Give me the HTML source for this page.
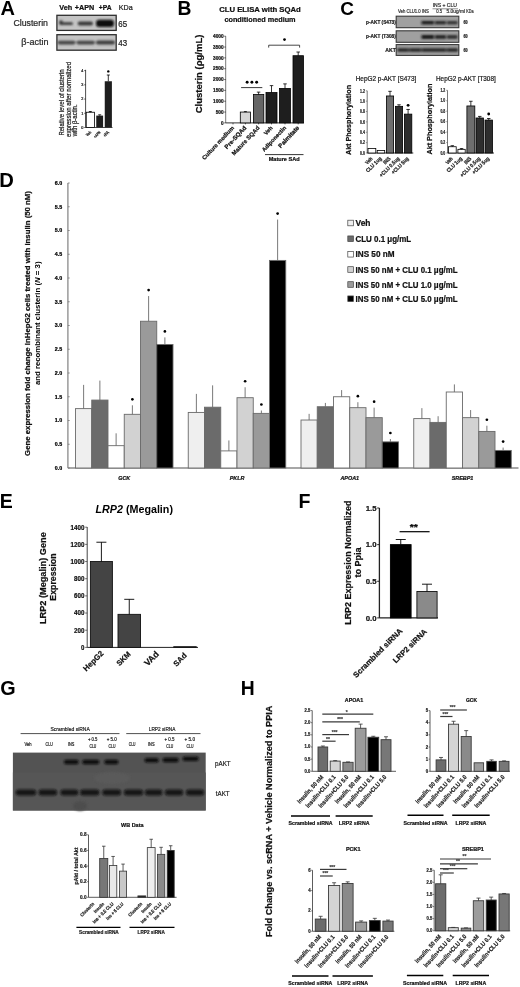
<!DOCTYPE html>
<html><head><meta charset="utf-8"><title>Figure</title>
<style>
html,body{margin:0;padding:0;background:#fff;}
body{width:520px;height:987px;overflow:hidden;}
svg{display:block;font-family:"Liberation Sans",Arial,sans-serif;}
</style></head><body>
<svg width="520" height="987" viewBox="0 0 520 987">
<defs>
<filter id="bl1" x="-20%" y="-50%" width="140%" height="200%"><feGaussianBlur stdDeviation="0.9"/></filter>
<filter id="bl2" x="-20%" y="-50%" width="140%" height="200%"><feGaussianBlur stdDeviation="1.25"/></filter>
</defs>
<rect width="520" height="987" fill="#fff"/>
<text x="0.6" y="15" font-size="20" font-weight="bold">A</text>
<text x="59.3" y="9.9" font-size="7" font-weight="bold" fill="#111" textLength="12.9" lengthAdjust="spacingAndGlyphs" stroke="#111" stroke-width="0.22">Veh</text>
<text x="74.7" y="9.9" font-size="7" font-weight="bold" fill="#111" textLength="19.5" lengthAdjust="spacingAndGlyphs" stroke="#111" stroke-width="0.22">+APN</text>
<text x="98.8" y="9.9" font-size="7" font-weight="bold" fill="#111" textLength="12.8" lengthAdjust="spacingAndGlyphs" stroke="#111" stroke-width="0.22">+PA</text>
<text x="118.8" y="9.9" font-size="7" fill="#222" textLength="13.9" lengthAdjust="spacingAndGlyphs" stroke="#222" stroke-width="0.22">KDa</text>
<text x="13.4" y="25.6" font-size="8.4" fill="#2a2a2a" textLength="34.6" lengthAdjust="spacingAndGlyphs" stroke="#2a2a2a" stroke-width="0.22">Clusterin</text>
<text x="21.3" y="45.2" font-size="8.4" fill="#2a2a2a" textLength="27.2" lengthAdjust="spacingAndGlyphs" stroke="#2a2a2a" stroke-width="0.22">&#946;-actin</text>
<text x="118.3" y="27" font-size="8.4" fill="#222" textLength="8.8" lengthAdjust="spacingAndGlyphs" stroke="#222" stroke-width="0.22">65</text>
<text x="118.3" y="46" font-size="8.4" fill="#222" textLength="8.8" lengthAdjust="spacingAndGlyphs" stroke="#222" stroke-width="0.22">43</text>
<rect x="56.9" y="15.3" width="59.3" height="15.1" fill="#c4c4c4" stroke="#2e2e2e" stroke-width="1.3"/>
<rect x="56.9" y="34.7" width="59.3" height="15.5" fill="#c4c4c4" stroke="#2e2e2e" stroke-width="1.3"/>
<g filter="url(#bl1)">
<rect x="59.5" y="22.3" width="13.5" height="2.8" rx="1.4" fill="#3a3a3a"/>
<ellipse cx="61" cy="22.6" rx="2" ry="2.4" fill="#3a3a3a"/>
<rect x="77.7" y="21.4" width="15.3" height="4.2" rx="2" fill="#383838"/>
<rect x="96" y="19.8" width="18" height="7.2" rx="3.2" fill="#0a0a0a"/>
<rect x="57.5" y="40.8" width="18" height="3.6" rx="1.8" fill="#444"/>
<rect x="76.5" y="40.8" width="18.5" height="3.6" rx="1.8" fill="#444"/>
<rect x="96" y="40.6" width="19" height="3.8" rx="1.9" fill="#3c3c3c"/>
</g>
<line x1="85.6" y1="69.8" x2="85.6" y2="127.5" stroke="#000" stroke-width="0.7"/>
<line x1="85.6" y1="127.5" x2="112.5" y2="127.5" stroke="#000" stroke-width="0.7"/>
<line x1="84.2" y1="127.5" x2="85.6" y2="127.5" stroke="#000" stroke-width="0.6"/>
<text x="83.3" y="128.8" font-size="3.8" text-anchor="end" fill="#222" stroke="#222" stroke-width="0.22">0</text>
<line x1="84.2" y1="113.28" x2="85.6" y2="113.28" stroke="#000" stroke-width="0.6"/>
<text x="83.3" y="114.58" font-size="3.8" text-anchor="end" fill="#222" stroke="#222" stroke-width="0.22">1</text>
<line x1="84.2" y1="99.05" x2="85.6" y2="99.05" stroke="#000" stroke-width="0.6"/>
<text x="83.3" y="100.35" font-size="3.8" text-anchor="end" fill="#222" stroke="#222" stroke-width="0.22">2</text>
<line x1="84.2" y1="84.82" x2="85.6" y2="84.82" stroke="#000" stroke-width="0.6"/>
<text x="83.3" y="86.12" font-size="3.8" text-anchor="end" fill="#222" stroke="#222" stroke-width="0.22">3</text>
<line x1="84.2" y1="70.6" x2="85.6" y2="70.6" stroke="#000" stroke-width="0.6"/>
<text x="83.3" y="71.9" font-size="3.8" text-anchor="end" fill="#222" stroke="#222" stroke-width="0.22">4</text>
<rect x="86.25" y="112.25" width="8.15" height="15.25" fill="#fff" stroke="#000" stroke-width="0.8"/>
<line x1="90.3" y1="112.25" x2="90.3" y2="111.5" stroke="#000" stroke-width="0.8"/>
<line x1="88.8" y1="111.5" x2="91.8" y2="111.5" stroke="#000" stroke-width="0.8"/>
<rect x="96.25" y="115.6" width="6.85" height="11.9" fill="#1e1e1e"/>
<line x1="99.7" y1="115.6" x2="99.7" y2="114.8" stroke="#000" stroke-width="0.8"/>
<line x1="98.2" y1="114.8" x2="101.2" y2="114.8" stroke="#000" stroke-width="0.8"/>
<rect x="104.75" y="81.25" width="7.15" height="46.25" fill="#1e1e1e"/>
<line x1="108.3" y1="81.25" x2="108.3" y2="75" stroke="#000" stroke-width="0.8"/>
<line x1="106.8" y1="75" x2="109.8" y2="75" stroke="#000" stroke-width="0.8"/>
<circle cx="108.3" cy="71.4" r="1.2" fill="#000"/>
<text x="64" y="135.6" font-size="6.88" fill="#222" transform="rotate(-90 64 135.6)" textLength="66.2" lengthAdjust="spacingAndGlyphs" stroke="#222" stroke-width="0.22">Relative level of clusterin</text>
<text x="70.8" y="136.9" font-size="7.02" fill="#222" transform="rotate(-90 70.8 136.9)" textLength="75" lengthAdjust="spacingAndGlyphs" stroke="#222" stroke-width="0.22">expression after normalized</text>
<text x="77.1" y="136.3" font-size="6.85" fill="#222" transform="rotate(-90 77.1 136.3)" textLength="31.9" lengthAdjust="spacingAndGlyphs" stroke="#222" stroke-width="0.22">with &#946;-actin.</text>
<text x="91.5" y="132.7" font-size="4.02" text-anchor="end" font-weight="bold" fill="#222" transform="rotate(-45 91.5 132.7)" textLength="5.5" lengthAdjust="spacingAndGlyphs" stroke="#222" stroke-width="0.22">Veh</text>
<text x="100.9" y="132.7" font-size="3.86" text-anchor="end" font-weight="bold" fill="#222" transform="rotate(-45 100.9 132.7)" textLength="8" lengthAdjust="spacingAndGlyphs" stroke="#222" stroke-width="0.22">+APN</text>
<text x="109.5" y="132.7" font-size="4.45" text-anchor="end" font-weight="bold" fill="#222" transform="rotate(-45 109.5 132.7)" textLength="6.5" lengthAdjust="spacingAndGlyphs" stroke="#222" stroke-width="0.22">+PA</text>
<text x="177.4" y="15" font-size="19.3" font-weight="bold">B</text>
<text x="219.2" y="11.9" font-size="7.72" font-weight="bold" fill="#111" textLength="81.6" lengthAdjust="spacingAndGlyphs" stroke="#111" stroke-width="0.22">CLU ELISA with SQAd</text>
<text x="224.4" y="21.5" font-size="7.28" font-weight="bold" fill="#111" textLength="71.2" lengthAdjust="spacingAndGlyphs" stroke="#111" stroke-width="0.22">conditioned medium</text>
<line x1="225.7" y1="36.2" x2="225.7" y2="122.9" stroke="#555" stroke-width="0.8"/>
<line x1="225.7" y1="122.9" x2="304" y2="122.9" stroke="#000" stroke-width="0.8"/>
<line x1="224.2" y1="122.9" x2="225.7" y2="122.9" stroke="#000" stroke-width="0.6"/>
<text x="223.6" y="124.6" font-size="4.9" text-anchor="end" font-weight="bold" fill="#111" textLength="2.6" lengthAdjust="spacingAndGlyphs" stroke="#111" stroke-width="0.22">0</text>
<line x1="224.2" y1="112.06" x2="225.7" y2="112.06" stroke="#000" stroke-width="0.6"/>
<text x="223.6" y="113.76" font-size="4.9" text-anchor="end" font-weight="bold" fill="#111" textLength="7.9" lengthAdjust="spacingAndGlyphs" stroke="#111" stroke-width="0.22">500</text>
<line x1="224.2" y1="101.23" x2="225.7" y2="101.23" stroke="#000" stroke-width="0.6"/>
<text x="223.6" y="102.93" font-size="4.9" text-anchor="end" font-weight="bold" fill="#111" textLength="10.6" lengthAdjust="spacingAndGlyphs" stroke="#111" stroke-width="0.22">1000</text>
<line x1="224.2" y1="90.39" x2="225.7" y2="90.39" stroke="#000" stroke-width="0.6"/>
<text x="223.6" y="92.09" font-size="4.9" text-anchor="end" font-weight="bold" fill="#111" textLength="10.6" lengthAdjust="spacingAndGlyphs" stroke="#111" stroke-width="0.22">1500</text>
<line x1="224.2" y1="79.55" x2="225.7" y2="79.55" stroke="#000" stroke-width="0.6"/>
<text x="223.6" y="81.25" font-size="4.9" text-anchor="end" font-weight="bold" fill="#111" textLength="10.6" lengthAdjust="spacingAndGlyphs" stroke="#111" stroke-width="0.22">2000</text>
<line x1="224.2" y1="68.71" x2="225.7" y2="68.71" stroke="#000" stroke-width="0.6"/>
<text x="223.6" y="70.41" font-size="4.9" text-anchor="end" font-weight="bold" fill="#111" textLength="10.6" lengthAdjust="spacingAndGlyphs" stroke="#111" stroke-width="0.22">2500</text>
<line x1="224.2" y1="57.88" x2="225.7" y2="57.88" stroke="#000" stroke-width="0.6"/>
<text x="223.6" y="59.58" font-size="4.9" text-anchor="end" font-weight="bold" fill="#111" textLength="10.6" lengthAdjust="spacingAndGlyphs" stroke="#111" stroke-width="0.22">3000</text>
<line x1="224.2" y1="47.04" x2="225.7" y2="47.04" stroke="#000" stroke-width="0.6"/>
<text x="223.6" y="48.74" font-size="4.9" text-anchor="end" font-weight="bold" fill="#111" textLength="10.6" lengthAdjust="spacingAndGlyphs" stroke="#111" stroke-width="0.22">3500</text>
<line x1="224.2" y1="36.2" x2="225.7" y2="36.2" stroke="#000" stroke-width="0.6"/>
<text x="223.6" y="37.9" font-size="4.9" text-anchor="end" font-weight="bold" fill="#111" textLength="10.6" lengthAdjust="spacingAndGlyphs" stroke="#111" stroke-width="0.22">4000</text>
<line x1="233" y1="122.9" x2="233" y2="124.4" stroke="#000" stroke-width="0.6"/>
<line x1="245.4" y1="122.9" x2="245.4" y2="124.4" stroke="#000" stroke-width="0.6"/>
<line x1="258.6" y1="122.9" x2="258.6" y2="124.4" stroke="#000" stroke-width="0.6"/>
<line x1="271.5" y1="122.9" x2="271.5" y2="124.4" stroke="#000" stroke-width="0.6"/>
<line x1="285" y1="122.9" x2="285" y2="124.4" stroke="#000" stroke-width="0.6"/>
<line x1="298.2" y1="122.9" x2="298.2" y2="124.4" stroke="#000" stroke-width="0.6"/>
<rect x="240.3" y="112.06" width="10.2" height="10.84" fill="#d6d6d6" stroke="#000" stroke-width="0.8"/>
<line x1="245.4" y1="112.06" x2="245.4" y2="111.63" stroke="#000" stroke-width="0.8"/>
<line x1="243.9" y1="111.63" x2="246.9" y2="111.63" stroke="#000" stroke-width="0.8"/>
<rect x="253.5" y="94.51" width="10.3" height="28.39" fill="#666" stroke="#000" stroke-width="0.8"/>
<line x1="258.6" y1="94.51" x2="258.6" y2="92.12" stroke="#000" stroke-width="0.8"/>
<line x1="256.85" y1="92.12" x2="260.35" y2="92.12" stroke="#000" stroke-width="0.8"/>
<rect x="266" y="92.56" width="11" height="30.34" fill="#1e1e1e" stroke="#000" stroke-width="0.8"/>
<line x1="271.5" y1="92.56" x2="271.5" y2="85.62" stroke="#000" stroke-width="0.8"/>
<line x1="269.75" y1="85.62" x2="273.25" y2="85.62" stroke="#000" stroke-width="0.8"/>
<rect x="279.5" y="88.44" width="10.9" height="34.46" fill="#1e1e1e" stroke="#000" stroke-width="0.8"/>
<line x1="285" y1="88.44" x2="285" y2="83.89" stroke="#000" stroke-width="0.8"/>
<line x1="283.25" y1="83.89" x2="286.75" y2="83.89" stroke="#000" stroke-width="0.8"/>
<rect x="293" y="55.71" width="10.5" height="67.19" fill="#1e1e1e" stroke="#000" stroke-width="0.8"/>
<line x1="298.2" y1="55.71" x2="298.2" y2="52.02" stroke="#000" stroke-width="0.8"/>
<line x1="296.45" y1="52.02" x2="299.95" y2="52.02" stroke="#000" stroke-width="0.8"/>
<line x1="241.1" y1="87.6" x2="262.3" y2="87.6" stroke="#222" stroke-width="0.9"/>
<circle cx="247.15" cy="82.3" r="1.45" fill="#000"/>
<circle cx="251.9" cy="82.3" r="1.45" fill="#000"/>
<circle cx="256.65" cy="82.3" r="1.45" fill="#000"/>
<line x1="268.7" y1="45.2" x2="299.6" y2="45.2" stroke="#333" stroke-width="0.9"/>
<line x1="268.7" y1="45.2" x2="268.7" y2="47.6" stroke="#333" stroke-width="0.9"/>
<line x1="299.6" y1="45.2" x2="299.6" y2="47.6" stroke="#333" stroke-width="0.9"/>
<circle cx="284.5" cy="39.6" r="1.35" fill="#000"/>
<text x="201.8" y="113.3" font-size="9.5" font-weight="bold" fill="#111" transform="rotate(-90 201.8 113.3)" textLength="78.7" lengthAdjust="spacingAndGlyphs" stroke="#111" stroke-width="0.22">Clusterin (&#961;g/mL)</text>
<text x="234.5" y="128.2" font-size="5.78" text-anchor="end" font-weight="bold" fill="#111" transform="rotate(-47 234.5 128.2)" textLength="44" lengthAdjust="spacingAndGlyphs" stroke="#111" stroke-width="0.22">Culture medium</text>
<text x="246.9" y="128.2" font-size="6.14" text-anchor="end" font-weight="bold" fill="#111" transform="rotate(-47 246.9 128.2)" textLength="29" lengthAdjust="spacingAndGlyphs" stroke="#111" stroke-width="0.22">Pre-SQAd</text>
<text x="260.1" y="128.2" font-size="5.95" text-anchor="end" font-weight="bold" fill="#111" transform="rotate(-47 260.1 128.2)" textLength="37.7" lengthAdjust="spacingAndGlyphs" stroke="#111" stroke-width="0.22">Mature SQAd</text>
<text x="273" y="128.2" font-size="5.62" text-anchor="end" font-weight="bold" fill="#111" transform="rotate(-47 273 128.2)" textLength="10" lengthAdjust="spacingAndGlyphs" stroke="#111" stroke-width="0.22">Veh</text>
<text x="286.5" y="128.2" font-size="5.64" text-anchor="end" font-weight="bold" fill="#111" transform="rotate(-47 286.5 128.2)" textLength="32.6" lengthAdjust="spacingAndGlyphs" stroke="#111" stroke-width="0.22">Adiponectin</text>
<text x="299.7" y="128.2" font-size="6.21" text-anchor="end" font-weight="bold" fill="#111" transform="rotate(-47 299.7 128.2)" textLength="27.6" lengthAdjust="spacingAndGlyphs" stroke="#111" stroke-width="0.22">Palmitate</text>
<line x1="265" y1="154.6" x2="303.5" y2="154.6" stroke="#000" stroke-width="0.8"/>
<text x="284.2" y="161.2" font-size="5.58" text-anchor="middle" font-weight="bold" fill="#111" textLength="31" lengthAdjust="spacingAndGlyphs" stroke="#111" stroke-width="0.22">Mature SAd</text>
<text x="340.2" y="15.3" font-size="19" font-weight="bold">C</text>
<text x="432.7" y="6.9" font-size="5" fill="#333" textLength="24.3" lengthAdjust="spacingAndGlyphs" stroke="#333" stroke-width="0.22">INS  +  CLU</text>
<line x1="432.5" y1="8.8" x2="458" y2="8.8" stroke="#444" stroke-width="0.6"/>
<text x="398" y="13.4" font-size="5.2" fill="#333" textLength="30.8" lengthAdjust="spacingAndGlyphs" stroke="#333" stroke-width="0.22">Veh CLU1.0 INS</text>
<text x="436.2" y="13.4" font-size="5.2" fill="#333" textLength="5.8" lengthAdjust="spacingAndGlyphs" stroke="#333" stroke-width="0.22">0.5</text>
<text x="446.5" y="13.4" font-size="5.2" fill="#333" textLength="18.5" lengthAdjust="spacingAndGlyphs" stroke="#333" stroke-width="0.22">5.0ug/ml</text>
<text x="466.2" y="13.4" font-size="5" fill="#333" textLength="7.3" lengthAdjust="spacingAndGlyphs" stroke="#333" stroke-width="0.22">KDa</text>
<rect x="396.2" y="16.2" width="62.6" height="11.5" fill="#a0a0a0" stroke="#383838" stroke-width="1.1"/>
<text x="395.8" y="23.85" font-size="5.44" text-anchor="end" font-weight="bold" fill="#1a1a1a" textLength="29.7" lengthAdjust="spacingAndGlyphs" stroke="#1a1a1a" stroke-width="0.22">p-AKT (S473)</text>
<text x="463.4" y="23.85" font-size="4.53" font-weight="bold" fill="#222" textLength="4.2" lengthAdjust="spacingAndGlyphs" stroke="#222" stroke-width="0.22">60</text>
<rect x="396.2" y="30.8" width="62.6" height="11.5" fill="#a0a0a0" stroke="#383838" stroke-width="1.1"/>
<text x="395.8" y="38.45" font-size="5.49" text-anchor="end" font-weight="bold" fill="#1a1a1a" textLength="29.7" lengthAdjust="spacingAndGlyphs" stroke="#1a1a1a" stroke-width="0.22">p-AKT (T308)</text>
<text x="463.4" y="38.45" font-size="4.53" font-weight="bold" fill="#222" textLength="4.2" lengthAdjust="spacingAndGlyphs" stroke="#222" stroke-width="0.22">60</text>
<rect x="396.2" y="44.6" width="62.6" height="10.8" fill="#a0a0a0" stroke="#383838" stroke-width="1.1"/>
<text x="395.8" y="51.9" font-size="5.88" text-anchor="end" font-weight="bold" fill="#1a1a1a" textLength="10.5" lengthAdjust="spacingAndGlyphs" stroke="#1a1a1a" stroke-width="0.22">AKT</text>
<text x="463.4" y="51.9" font-size="4.53" font-weight="bold" fill="#222" textLength="4.2" lengthAdjust="spacingAndGlyphs" stroke="#222" stroke-width="0.22">60</text>
<g filter="url(#bl1)">
<rect x="421.5" y="21" width="12.5" height="3.4" fill="#161616"/>
<rect x="421.5" y="35" width="12.5" height="3.9" fill="#161616"/>
<rect x="435" y="21" width="11" height="3.4" fill="#262626"/>
<rect x="435" y="35" width="11" height="3.9" fill="#262626"/>
<rect x="447" y="21" width="10.5" height="3.4" fill="#333"/>
<rect x="447" y="35" width="10.5" height="3.9" fill="#333"/>
<rect x="397.5" y="48.2" width="60.3" height="3.6" fill="#262626"/>
<rect x="408.4" y="48.2" width="1.2" height="3.6" fill="#555"/>
<rect x="420.9" y="48.2" width="1.2" height="3.6" fill="#555"/>
<rect x="445.9" y="48.2" width="1.2" height="3.6" fill="#555"/>
</g>
<text x="355.7" y="81.1" font-size="6.75" fill="#1a1a1a" textLength="60.6" lengthAdjust="spacingAndGlyphs" stroke="#1a1a1a" stroke-width="0.22">HepG2 p-AKT [S473]</text>
<line x1="367.2" y1="90.8" x2="367.2" y2="153" stroke="#555" stroke-width="0.8"/>
<line x1="367.2" y1="153" x2="413.3" y2="153" stroke="#000" stroke-width="0.8"/>
<line x1="365.9" y1="153" x2="367.2" y2="153" stroke="#555" stroke-width="0.6"/>
<text x="365" y="154.7" font-size="5" text-anchor="end" font-weight="bold" fill="#222" textLength="4.9" lengthAdjust="spacingAndGlyphs" stroke="#222" stroke-width="0.22">0.0</text>
<line x1="365.9" y1="142.63" x2="367.2" y2="142.63" stroke="#555" stroke-width="0.6"/>
<text x="365" y="144.33" font-size="5" text-anchor="end" font-weight="bold" fill="#222" textLength="4.9" lengthAdjust="spacingAndGlyphs" stroke="#222" stroke-width="0.22">0.2</text>
<line x1="365.9" y1="132.27" x2="367.2" y2="132.27" stroke="#555" stroke-width="0.6"/>
<text x="365" y="133.97" font-size="5" text-anchor="end" font-weight="bold" fill="#222" textLength="4.9" lengthAdjust="spacingAndGlyphs" stroke="#222" stroke-width="0.22">0.4</text>
<line x1="365.9" y1="121.9" x2="367.2" y2="121.9" stroke="#555" stroke-width="0.6"/>
<text x="365" y="123.6" font-size="5" text-anchor="end" font-weight="bold" fill="#222" textLength="4.9" lengthAdjust="spacingAndGlyphs" stroke="#222" stroke-width="0.22">0.6</text>
<line x1="365.9" y1="111.53" x2="367.2" y2="111.53" stroke="#555" stroke-width="0.6"/>
<text x="365" y="113.23" font-size="5" text-anchor="end" font-weight="bold" fill="#222" textLength="4.9" lengthAdjust="spacingAndGlyphs" stroke="#222" stroke-width="0.22">0.8</text>
<line x1="365.9" y1="101.17" x2="367.2" y2="101.17" stroke="#555" stroke-width="0.6"/>
<text x="365" y="102.87" font-size="5" text-anchor="end" font-weight="bold" fill="#222" textLength="4.9" lengthAdjust="spacingAndGlyphs" stroke="#222" stroke-width="0.22">1.0</text>
<line x1="365.9" y1="90.8" x2="367.2" y2="90.8" stroke="#555" stroke-width="0.6"/>
<text x="365" y="92.5" font-size="5" text-anchor="end" font-weight="bold" fill="#222" textLength="4.9" lengthAdjust="spacingAndGlyphs" stroke="#222" stroke-width="0.22">1.2</text>
<text x="350.5" y="155" font-size="7.17" font-weight="bold" fill="#111" transform="rotate(-90 350.5 155)" textLength="70.1" lengthAdjust="spacingAndGlyphs" stroke="#111" stroke-width="0.22">Akt Phosphorylation</text>
<rect x="368" y="148.59" width="7.8" height="4.41" fill="#fff" stroke="#000" stroke-width="0.8"/>
<text x="372.9" y="159" font-size="5.17" text-anchor="end" font-weight="bold" fill="#222" transform="rotate(-45 372.9 159)" textLength="8" lengthAdjust="spacingAndGlyphs" stroke="#222" stroke-width="0.22">Veh</text>
<rect x="377.2" y="150.41" width="7.5" height="2.59" fill="#fff" stroke="#000" stroke-width="0.8"/>
<text x="381.95" y="159" font-size="5.48" text-anchor="end" font-weight="bold" fill="#222" transform="rotate(-45 381.95 159)" textLength="19.6" lengthAdjust="spacingAndGlyphs" stroke="#222" stroke-width="0.22">CLU 1ug</text>
<rect x="386.4" y="95.98" width="7.2" height="57.02" fill="#6e6e6e" stroke="#000" stroke-width="0.8"/>
<line x1="390" y1="95.98" x2="390" y2="91.32" stroke="#000" stroke-width="0.8"/>
<line x1="388.25" y1="91.32" x2="391.75" y2="91.32" stroke="#000" stroke-width="0.8"/>
<text x="391" y="159" font-size="5.52" text-anchor="end" font-weight="bold" fill="#222" transform="rotate(-45 391 159)" textLength="8" lengthAdjust="spacingAndGlyphs" stroke="#222" stroke-width="0.22">INS</text>
<rect x="395.4" y="106.35" width="7.2" height="46.65" fill="#2e2e2e" stroke="#000" stroke-width="0.8"/>
<line x1="399" y1="106.35" x2="399" y2="104.79" stroke="#000" stroke-width="0.8"/>
<line x1="397.25" y1="104.79" x2="400.75" y2="104.79" stroke="#000" stroke-width="0.8"/>
<text x="400" y="159" font-size="5.41" text-anchor="end" font-weight="bold" fill="#222" transform="rotate(-45 400 159)" textLength="26" lengthAdjust="spacingAndGlyphs" stroke="#222" stroke-width="0.22">+CLU 0.5ug</text>
<rect x="404.4" y="114.12" width="7.4" height="38.88" fill="#2e2e2e" stroke="#000" stroke-width="0.8"/>
<line x1="408.1" y1="114.12" x2="408.1" y2="109.46" stroke="#000" stroke-width="0.8"/>
<line x1="406.35" y1="109.46" x2="409.85" y2="109.46" stroke="#000" stroke-width="0.8"/>
<text x="409.1" y="159" font-size="5.39" text-anchor="end" font-weight="bold" fill="#222" transform="rotate(-45 409.1 159)" textLength="22" lengthAdjust="spacingAndGlyphs" stroke="#222" stroke-width="0.22">+CLU 5ug</text>
<circle cx="408.1" cy="105.3" r="1.4" fill="#000"/>
<text x="436" y="81.1" font-size="6.69" fill="#1a1a1a" textLength="59.7" lengthAdjust="spacingAndGlyphs" stroke="#1a1a1a" stroke-width="0.22">HepG2 p-AKT [T308]</text>
<line x1="447.5" y1="90.3" x2="447.5" y2="153" stroke="#555" stroke-width="0.8"/>
<line x1="447.5" y1="153" x2="494" y2="153" stroke="#000" stroke-width="0.8"/>
<line x1="446.2" y1="153" x2="447.5" y2="153" stroke="#555" stroke-width="0.6"/>
<text x="445.3" y="154.7" font-size="5" text-anchor="end" font-weight="bold" fill="#222" textLength="4.9" lengthAdjust="spacingAndGlyphs" stroke="#222" stroke-width="0.22">0.0</text>
<line x1="446.2" y1="142.55" x2="447.5" y2="142.55" stroke="#555" stroke-width="0.6"/>
<text x="445.3" y="144.25" font-size="5" text-anchor="end" font-weight="bold" fill="#222" textLength="4.9" lengthAdjust="spacingAndGlyphs" stroke="#222" stroke-width="0.22">0.2</text>
<line x1="446.2" y1="132.1" x2="447.5" y2="132.1" stroke="#555" stroke-width="0.6"/>
<text x="445.3" y="133.8" font-size="5" text-anchor="end" font-weight="bold" fill="#222" textLength="4.9" lengthAdjust="spacingAndGlyphs" stroke="#222" stroke-width="0.22">0.4</text>
<line x1="446.2" y1="121.65" x2="447.5" y2="121.65" stroke="#555" stroke-width="0.6"/>
<text x="445.3" y="123.35" font-size="5" text-anchor="end" font-weight="bold" fill="#222" textLength="4.9" lengthAdjust="spacingAndGlyphs" stroke="#222" stroke-width="0.22">0.6</text>
<line x1="446.2" y1="111.2" x2="447.5" y2="111.2" stroke="#555" stroke-width="0.6"/>
<text x="445.3" y="112.9" font-size="5" text-anchor="end" font-weight="bold" fill="#222" textLength="4.9" lengthAdjust="spacingAndGlyphs" stroke="#222" stroke-width="0.22">0.8</text>
<line x1="446.2" y1="100.75" x2="447.5" y2="100.75" stroke="#555" stroke-width="0.6"/>
<text x="445.3" y="102.45" font-size="5" text-anchor="end" font-weight="bold" fill="#222" textLength="4.9" lengthAdjust="spacingAndGlyphs" stroke="#222" stroke-width="0.22">1.0</text>
<line x1="446.2" y1="90.3" x2="447.5" y2="90.3" stroke="#555" stroke-width="0.6"/>
<text x="445.3" y="92" font-size="5" text-anchor="end" font-weight="bold" fill="#222" textLength="4.9" lengthAdjust="spacingAndGlyphs" stroke="#222" stroke-width="0.22">1.2</text>
<text x="432.2" y="154.6" font-size="7.26" font-weight="bold" fill="#111" transform="rotate(-90 432.2 154.6)" textLength="71" lengthAdjust="spacingAndGlyphs" stroke="#111" stroke-width="0.22">Akt Phosphorylation</text>
<rect x="448.4" y="146.73" width="7.8" height="6.27" fill="#fff" stroke="#000" stroke-width="0.8"/>
<line x1="452.3" y1="146.73" x2="452.3" y2="145.69" stroke="#000" stroke-width="0.8"/>
<line x1="450.55" y1="145.69" x2="454.05" y2="145.69" stroke="#000" stroke-width="0.8"/>
<text x="453.3" y="159" font-size="5.17" text-anchor="end" font-weight="bold" fill="#222" transform="rotate(-45 453.3 159)" textLength="8" lengthAdjust="spacingAndGlyphs" stroke="#222" stroke-width="0.22">Veh</text>
<rect x="457.9" y="149.34" width="7.3" height="3.66" fill="#fff" stroke="#000" stroke-width="0.8"/>
<line x1="461.55" y1="149.34" x2="461.55" y2="148.56" stroke="#000" stroke-width="0.8"/>
<line x1="459.8" y1="148.56" x2="463.3" y2="148.56" stroke="#000" stroke-width="0.8"/>
<text x="462.55" y="159" font-size="5.48" text-anchor="end" font-weight="bold" fill="#222" transform="rotate(-45 462.55 159)" textLength="19.6" lengthAdjust="spacingAndGlyphs" stroke="#222" stroke-width="0.22">CLU 1ug</text>
<rect x="466.9" y="105.97" width="7.9" height="47.03" fill="#6e6e6e" stroke="#000" stroke-width="0.8"/>
<line x1="470.85" y1="105.97" x2="470.85" y2="101.27" stroke="#000" stroke-width="0.8"/>
<line x1="469.1" y1="101.27" x2="472.6" y2="101.27" stroke="#000" stroke-width="0.8"/>
<text x="471.85" y="159" font-size="5.52" text-anchor="end" font-weight="bold" fill="#222" transform="rotate(-45 471.85 159)" textLength="8" lengthAdjust="spacingAndGlyphs" stroke="#222" stroke-width="0.22">INS</text>
<rect x="476" y="117.99" width="7.5" height="35.01" fill="#2e2e2e" stroke="#000" stroke-width="0.8"/>
<line x1="479.75" y1="117.99" x2="479.75" y2="116.42" stroke="#000" stroke-width="0.8"/>
<line x1="478" y1="116.42" x2="481.5" y2="116.42" stroke="#000" stroke-width="0.8"/>
<text x="480.75" y="159" font-size="5.41" text-anchor="end" font-weight="bold" fill="#222" transform="rotate(-45 480.75 159)" textLength="26" lengthAdjust="spacingAndGlyphs" stroke="#222" stroke-width="0.22">+CLU 0.5ug</text>
<rect x="485" y="120.08" width="7.5" height="32.92" fill="#2e2e2e" stroke="#000" stroke-width="0.8"/>
<line x1="488.75" y1="120.08" x2="488.75" y2="118.51" stroke="#000" stroke-width="0.8"/>
<line x1="487" y1="118.51" x2="490.5" y2="118.51" stroke="#000" stroke-width="0.8"/>
<text x="489.75" y="159" font-size="5.39" text-anchor="end" font-weight="bold" fill="#222" transform="rotate(-45 489.75 159)" textLength="22" lengthAdjust="spacingAndGlyphs" stroke="#222" stroke-width="0.22">+CLU 5ug</text>
<circle cx="488.7" cy="114" r="1.4" fill="#000"/>
<text x="-0.8" y="186.75" font-size="20.2" font-weight="bold">D</text>
<line x1="67.9" y1="183" x2="67.9" y2="468" stroke="#8a8a8a" stroke-width="1.3"/>
<line x1="67.9" y1="468" x2="518.5" y2="468" stroke="#8a8a8a" stroke-width="1.3"/>
<line x1="67.9" y1="468" x2="69.7" y2="468" stroke="#777" stroke-width="0.8"/>
<text x="62.2" y="469.8" font-size="5.2" text-anchor="end" font-weight="bold" textLength="7.4" lengthAdjust="spacingAndGlyphs" stroke="#000" stroke-width="0.22">0.0</text>
<line x1="67.9" y1="444.25" x2="69.7" y2="444.25" stroke="#777" stroke-width="0.8"/>
<text x="62.2" y="446.05" font-size="5.2" text-anchor="end" font-weight="bold" textLength="7.4" lengthAdjust="spacingAndGlyphs" stroke="#000" stroke-width="0.22">0.5</text>
<line x1="67.9" y1="420.5" x2="69.7" y2="420.5" stroke="#777" stroke-width="0.8"/>
<text x="62.2" y="422.3" font-size="5.2" text-anchor="end" font-weight="bold" textLength="7.4" lengthAdjust="spacingAndGlyphs" stroke="#000" stroke-width="0.22">1.0</text>
<line x1="67.9" y1="396.75" x2="69.7" y2="396.75" stroke="#777" stroke-width="0.8"/>
<text x="62.2" y="398.55" font-size="5.2" text-anchor="end" font-weight="bold" textLength="7.4" lengthAdjust="spacingAndGlyphs" stroke="#000" stroke-width="0.22">1.5</text>
<line x1="67.9" y1="373" x2="69.7" y2="373" stroke="#777" stroke-width="0.8"/>
<text x="62.2" y="374.8" font-size="5.2" text-anchor="end" font-weight="bold" textLength="7.4" lengthAdjust="spacingAndGlyphs" stroke="#000" stroke-width="0.22">2.0</text>
<line x1="67.9" y1="349.25" x2="69.7" y2="349.25" stroke="#777" stroke-width="0.8"/>
<text x="62.2" y="351.05" font-size="5.2" text-anchor="end" font-weight="bold" textLength="7.4" lengthAdjust="spacingAndGlyphs" stroke="#000" stroke-width="0.22">2.5</text>
<line x1="67.9" y1="325.5" x2="69.7" y2="325.5" stroke="#777" stroke-width="0.8"/>
<text x="62.2" y="327.3" font-size="5.2" text-anchor="end" font-weight="bold" textLength="7.4" lengthAdjust="spacingAndGlyphs" stroke="#000" stroke-width="0.22">3.0</text>
<line x1="67.9" y1="301.75" x2="69.7" y2="301.75" stroke="#777" stroke-width="0.8"/>
<text x="62.2" y="303.55" font-size="5.2" text-anchor="end" font-weight="bold" textLength="7.4" lengthAdjust="spacingAndGlyphs" stroke="#000" stroke-width="0.22">3.5</text>
<line x1="67.9" y1="278" x2="69.7" y2="278" stroke="#777" stroke-width="0.8"/>
<text x="62.2" y="279.8" font-size="5.2" text-anchor="end" font-weight="bold" textLength="7.4" lengthAdjust="spacingAndGlyphs" stroke="#000" stroke-width="0.22">4.0</text>
<line x1="67.9" y1="254.25" x2="69.7" y2="254.25" stroke="#777" stroke-width="0.8"/>
<text x="62.2" y="256.05" font-size="5.2" text-anchor="end" font-weight="bold" textLength="7.4" lengthAdjust="spacingAndGlyphs" stroke="#000" stroke-width="0.22">4.5</text>
<line x1="67.9" y1="230.5" x2="69.7" y2="230.5" stroke="#777" stroke-width="0.8"/>
<text x="62.2" y="232.3" font-size="5.2" text-anchor="end" font-weight="bold" textLength="7.4" lengthAdjust="spacingAndGlyphs" stroke="#000" stroke-width="0.22">5.0</text>
<line x1="67.9" y1="206.75" x2="69.7" y2="206.75" stroke="#777" stroke-width="0.8"/>
<text x="62.2" y="208.55" font-size="5.2" text-anchor="end" font-weight="bold" textLength="7.4" lengthAdjust="spacingAndGlyphs" stroke="#000" stroke-width="0.22">5.5</text>
<line x1="67.9" y1="183" x2="69.7" y2="183" stroke="#777" stroke-width="0.8"/>
<text x="62.2" y="184.8" font-size="5.2" text-anchor="end" font-weight="bold" textLength="7.4" lengthAdjust="spacingAndGlyphs" stroke="#000" stroke-width="0.22">6.0</text>
<text x="29.9" y="455.9" font-size="7.6" font-weight="bold" fill="#111" transform="rotate(-90 29.9 455.9)" textLength="264.8" lengthAdjust="spacingAndGlyphs" stroke="#111" stroke-width="0.22">Gene expression fold change inHepG2 cells treated with insulin (50 nM)</text>
<text x="39.6" y="385.1" font-size="7.6" font-weight="bold" transform="rotate(-90 39.6 385.1)" textLength="123.6" lengthAdjust="spacingAndGlyphs"><tspan>and recombinant clusterin (</tspan><tspan font-style="italic">N</tspan><tspan> = 3)</tspan></text>
<rect x="75.5" y="408.62" width="16.25" height="59.38" fill="#efefef" stroke="#6a6a6a" stroke-width="0.9"/>
<line x1="83.62" y1="408.62" x2="83.62" y2="384.88" stroke="#6a6a6a" stroke-width="0.9"/>
<rect x="91.75" y="400.07" width="16.25" height="67.93" fill="#6b6b6b" stroke="#6a6a6a" stroke-width="0.9"/>
<line x1="99.88" y1="400.07" x2="99.88" y2="380.6" stroke="#6a6a6a" stroke-width="0.9"/>
<rect x="108" y="445.68" width="16.25" height="22.32" fill="#ffffff" stroke="#6a6a6a" stroke-width="0.9"/>
<line x1="116.12" y1="445.68" x2="116.12" y2="433.32" stroke="#6a6a6a" stroke-width="0.9"/>
<rect x="124.25" y="414.32" width="16.25" height="53.68" fill="#d2d2d2" stroke="#6a6a6a" stroke-width="0.9"/>
<line x1="132.38" y1="414.32" x2="132.38" y2="405.3" stroke="#6a6a6a" stroke-width="0.9"/>
<circle cx="132.38" cy="399.3" r="1.35" fill="#000"/>
<rect x="140.5" y="321.23" width="16.25" height="146.77" fill="#9a9a9a" stroke="#6a6a6a" stroke-width="0.9"/>
<line x1="148.62" y1="321.23" x2="148.62" y2="296.05" stroke="#6a6a6a" stroke-width="0.9"/>
<circle cx="148.62" cy="290.05" r="1.35" fill="#000"/>
<rect x="156.75" y="344.5" width="16.25" height="123.5" fill="#000000" stroke="#6a6a6a" stroke-width="0.9"/>
<line x1="164.88" y1="344.5" x2="164.88" y2="337.38" stroke="#6a6a6a" stroke-width="0.9"/>
<circle cx="164.88" cy="331.38" r="1.35" fill="#000"/>
<text x="124.25" y="479.6" font-size="5.4" text-anchor="middle" font-weight="bold" fill="#111" font-style="italic" stroke="#111" stroke-width="0.22">GCK</text>
<rect x="188.25" y="412.43" width="16.25" height="55.57" fill="#efefef" stroke="#6a6a6a" stroke-width="0.9"/>
<line x1="196.38" y1="412.43" x2="196.38" y2="393.9" stroke="#6a6a6a" stroke-width="0.9"/>
<rect x="204.5" y="407.2" width="16.25" height="60.8" fill="#6b6b6b" stroke="#6a6a6a" stroke-width="0.9"/>
<line x1="212.62" y1="407.2" x2="212.62" y2="385.35" stroke="#6a6a6a" stroke-width="0.9"/>
<rect x="220.75" y="450.9" width="16.25" height="17.1" fill="#ffffff" stroke="#6a6a6a" stroke-width="0.9"/>
<line x1="228.88" y1="450.9" x2="228.88" y2="440.45" stroke="#6a6a6a" stroke-width="0.9"/>
<rect x="237" y="397.7" width="16.25" height="70.3" fill="#d2d2d2" stroke="#6a6a6a" stroke-width="0.9"/>
<line x1="245.12" y1="397.7" x2="245.12" y2="387.25" stroke="#6a6a6a" stroke-width="0.9"/>
<circle cx="245.12" cy="381.25" r="1.35" fill="#000"/>
<rect x="253.25" y="413.38" width="16.25" height="54.62" fill="#9a9a9a" stroke="#6a6a6a" stroke-width="0.9"/>
<line x1="261.38" y1="413.38" x2="261.38" y2="410.52" stroke="#6a6a6a" stroke-width="0.9"/>
<circle cx="261.38" cy="404.52" r="1.35" fill="#000"/>
<rect x="269.5" y="260.42" width="16.25" height="207.58" fill="#000000" stroke="#6a6a6a" stroke-width="0.9"/>
<line x1="277.62" y1="260.42" x2="277.62" y2="219.57" stroke="#6a6a6a" stroke-width="0.9"/>
<circle cx="277.62" cy="213.57" r="1.35" fill="#000"/>
<text x="237" y="479.6" font-size="5.4" text-anchor="middle" font-weight="bold" fill="#111" font-style="italic" stroke="#111" stroke-width="0.22">PKLR</text>
<rect x="301" y="420.02" width="16.25" height="47.98" fill="#efefef" stroke="#6a6a6a" stroke-width="0.9"/>
<line x1="309.12" y1="420.02" x2="309.12" y2="413.85" stroke="#6a6a6a" stroke-width="0.9"/>
<rect x="317.25" y="406.73" width="16.25" height="61.27" fill="#6b6b6b" stroke="#6a6a6a" stroke-width="0.9"/>
<line x1="325.38" y1="406.73" x2="325.38" y2="402.93" stroke="#6a6a6a" stroke-width="0.9"/>
<rect x="333.5" y="396.75" width="16.25" height="71.25" fill="#ffffff" stroke="#6a6a6a" stroke-width="0.9"/>
<line x1="341.62" y1="396.75" x2="341.62" y2="390.1" stroke="#6a6a6a" stroke-width="0.9"/>
<rect x="349.75" y="407.68" width="16.25" height="60.32" fill="#d2d2d2" stroke="#6a6a6a" stroke-width="0.9"/>
<line x1="357.88" y1="407.68" x2="357.88" y2="402.21" stroke="#6a6a6a" stroke-width="0.9"/>
<circle cx="357.88" cy="396.21" r="1.35" fill="#000"/>
<rect x="366" y="417.65" width="16.25" height="50.35" fill="#9a9a9a" stroke="#6a6a6a" stroke-width="0.9"/>
<line x1="374.12" y1="417.65" x2="374.12" y2="407.67" stroke="#6a6a6a" stroke-width="0.9"/>
<circle cx="374.12" cy="401.67" r="1.35" fill="#000"/>
<rect x="382.25" y="441.88" width="16.25" height="26.12" fill="#000000" stroke="#6a6a6a" stroke-width="0.9"/>
<line x1="390.38" y1="441.88" x2="390.38" y2="439.02" stroke="#6a6a6a" stroke-width="0.9"/>
<circle cx="390.38" cy="433.02" r="1.35" fill="#000"/>
<text x="349.75" y="479.6" font-size="5.4" text-anchor="middle" font-weight="bold" fill="#111" font-style="italic" stroke="#111" stroke-width="0.22">APOA1</text>
<rect x="413.75" y="418.6" width="16.25" height="49.4" fill="#efefef" stroke="#6a6a6a" stroke-width="0.9"/>
<line x1="421.88" y1="418.6" x2="421.88" y2="408.15" stroke="#6a6a6a" stroke-width="0.9"/>
<rect x="430" y="422.4" width="16.25" height="45.6" fill="#6b6b6b" stroke="#6a6a6a" stroke-width="0.9"/>
<line x1="438.12" y1="422.4" x2="438.12" y2="416.22" stroke="#6a6a6a" stroke-width="0.9"/>
<rect x="446.25" y="392" width="16.25" height="76" fill="#ffffff" stroke="#6a6a6a" stroke-width="0.9"/>
<line x1="454.38" y1="392" x2="454.38" y2="384.4" stroke="#6a6a6a" stroke-width="0.9"/>
<rect x="462.5" y="417.65" width="16.25" height="50.35" fill="#d2d2d2" stroke="#6a6a6a" stroke-width="0.9"/>
<line x1="470.62" y1="417.65" x2="470.62" y2="410.05" stroke="#6a6a6a" stroke-width="0.9"/>
<rect x="478.75" y="431.43" width="16.25" height="36.57" fill="#9a9a9a" stroke="#6a6a6a" stroke-width="0.9"/>
<line x1="486.88" y1="431.43" x2="486.88" y2="425.73" stroke="#6a6a6a" stroke-width="0.9"/>
<circle cx="486.88" cy="419.73" r="1.35" fill="#000"/>
<rect x="495" y="450.43" width="16.25" height="17.57" fill="#000000" stroke="#6a6a6a" stroke-width="0.9"/>
<line x1="503.12" y1="450.43" x2="503.12" y2="447.57" stroke="#6a6a6a" stroke-width="0.9"/>
<circle cx="503.12" cy="441.57" r="1.35" fill="#000"/>
<text x="462.5" y="479.6" font-size="5.4" text-anchor="middle" font-weight="bold" fill="#111" font-style="italic" stroke="#111" stroke-width="0.22">SREBP1</text>
<rect x="347.8" y="220.2" width="5.6" height="5.6" fill="#efefef" stroke="#444" stroke-width="0.7"/>
<text x="355.5" y="226" font-size="8.2" font-weight="bold" fill="#111" textLength="15" lengthAdjust="spacingAndGlyphs" stroke="#111" stroke-width="0.22">Veh</text>
<rect x="347.8" y="235.95" width="5.6" height="5.6" fill="#6b6b6b" stroke="#444" stroke-width="0.7"/>
<text x="355.5" y="241.75" font-size="8.2" font-weight="bold" fill="#111" textLength="55.7" lengthAdjust="spacingAndGlyphs" stroke="#111" stroke-width="0.22">CLU 0.1 &#956;g/mL</text>
<rect x="347.8" y="251.45" width="5.6" height="5.6" fill="#ffffff" stroke="#444" stroke-width="0.7"/>
<text x="355.5" y="257.25" font-size="8.2" font-weight="bold" fill="#111" textLength="39" lengthAdjust="spacingAndGlyphs" stroke="#111" stroke-width="0.22">INS 50 nM</text>
<rect x="347.8" y="266.7" width="5.6" height="5.6" fill="#d2d2d2" stroke="#444" stroke-width="0.7"/>
<text x="355.5" y="272.5" font-size="8.2" font-weight="bold" fill="#111" textLength="102" lengthAdjust="spacingAndGlyphs" stroke="#111" stroke-width="0.22">INS 50 nM + CLU 0.1 &#956;g/mL</text>
<rect x="347.8" y="281.7" width="5.6" height="5.6" fill="#9a9a9a" stroke="#444" stroke-width="0.7"/>
<text x="355.5" y="287.5" font-size="8.2" font-weight="bold" fill="#111" textLength="102" lengthAdjust="spacingAndGlyphs" stroke="#111" stroke-width="0.22">INS 50 nM + CLU 1.0 &#956;g/mL</text>
<rect x="347.8" y="295.95" width="5.6" height="5.6" fill="#000000" stroke="#444" stroke-width="0.7"/>
<text x="355.5" y="301.75" font-size="8.2" font-weight="bold" fill="#111" textLength="102" lengthAdjust="spacingAndGlyphs" stroke="#111" stroke-width="0.22">INS 50 nM + CLU 5.0 &#956;g/mL</text>
<text x="-0.2" y="507.9" font-size="19.5" font-weight="bold">E</text>
<text x="95.5" y="513" font-size="11.2" font-weight="bold" textLength="77.5" lengthAdjust="spacingAndGlyphs"><tspan font-style="italic">LRP2</tspan><tspan> (Megalin)</tspan></text>
<line x1="87.2" y1="527" x2="87.2" y2="647.4" stroke="#444" stroke-width="1"/>
<line x1="87.2" y1="647.4" x2="198" y2="647.4" stroke="#222" stroke-width="1"/>
<line x1="85.2" y1="647.4" x2="87.2" y2="647.4" stroke="#444" stroke-width="0.8"/>
<text x="84.4" y="649.7" font-size="6.73" text-anchor="end" font-weight="bold" fill="#111" textLength="3.4" lengthAdjust="spacingAndGlyphs" stroke="#111" stroke-width="0.22">0</text>
<line x1="85.2" y1="630.23" x2="87.2" y2="630.23" stroke="#444" stroke-width="0.8"/>
<text x="84.4" y="632.53" font-size="6.86" text-anchor="end" font-weight="bold" fill="#111" textLength="10.4" lengthAdjust="spacingAndGlyphs" stroke="#111" stroke-width="0.22">200</text>
<line x1="85.2" y1="613.06" x2="87.2" y2="613.06" stroke="#444" stroke-width="0.8"/>
<text x="84.4" y="615.36" font-size="6.86" text-anchor="end" font-weight="bold" fill="#111" textLength="10.4" lengthAdjust="spacingAndGlyphs" stroke="#111" stroke-width="0.22">400</text>
<line x1="85.2" y1="595.89" x2="87.2" y2="595.89" stroke="#444" stroke-width="0.8"/>
<text x="84.4" y="598.19" font-size="6.86" text-anchor="end" font-weight="bold" fill="#111" textLength="10.4" lengthAdjust="spacingAndGlyphs" stroke="#111" stroke-width="0.22">600</text>
<line x1="85.2" y1="578.71" x2="87.2" y2="578.71" stroke="#444" stroke-width="0.8"/>
<text x="84.4" y="581.01" font-size="6.86" text-anchor="end" font-weight="bold" fill="#111" textLength="10.4" lengthAdjust="spacingAndGlyphs" stroke="#111" stroke-width="0.22">800</text>
<line x1="85.2" y1="561.54" x2="87.2" y2="561.54" stroke="#444" stroke-width="0.8"/>
<text x="84.4" y="563.84" font-size="6.87" text-anchor="end" font-weight="bold" fill="#111" textLength="13.9" lengthAdjust="spacingAndGlyphs" stroke="#111" stroke-width="0.22">1000</text>
<line x1="85.2" y1="544.37" x2="87.2" y2="544.37" stroke="#444" stroke-width="0.8"/>
<text x="84.4" y="546.67" font-size="6.87" text-anchor="end" font-weight="bold" fill="#111" textLength="13.9" lengthAdjust="spacingAndGlyphs" stroke="#111" stroke-width="0.22">1200</text>
<line x1="85.2" y1="527.2" x2="87.2" y2="527.2" stroke="#444" stroke-width="0.8"/>
<text x="84.4" y="529.5" font-size="6.87" text-anchor="end" font-weight="bold" fill="#111" textLength="13.9" lengthAdjust="spacingAndGlyphs" stroke="#111" stroke-width="0.22">1400</text>
<rect x="90.4" y="561.54" width="22" height="85.86" fill="#444" stroke="#111" stroke-width="0.9"/>
<line x1="101.4" y1="561.54" x2="101.4" y2="542.23" stroke="#000" stroke-width="0.9"/>
<line x1="96.4" y1="542.23" x2="106.4" y2="542.23" stroke="#000" stroke-width="0.9"/>
<rect x="118" y="614.35" width="22.5" height="33.05" fill="#444" stroke="#111" stroke-width="0.9"/>
<line x1="129.25" y1="614.35" x2="129.25" y2="599.32" stroke="#000" stroke-width="0.9"/>
<line x1="124.25" y1="599.32" x2="134.25" y2="599.32" stroke="#000" stroke-width="0.9"/>
<rect x="173.75" y="646.71" width="22.5" height="0.69" fill="#444" stroke="#111" stroke-width="0.9"/>
<text x="104.2" y="653.9" font-size="7.82" text-anchor="end" font-weight="bold" fill="#111" transform="rotate(-45 104.2 653.9)" textLength="25.2" lengthAdjust="spacingAndGlyphs" stroke="#111" stroke-width="0.22">HepG2</text>
<text x="131.2" y="654.6" font-size="7.47" text-anchor="end" font-weight="bold" fill="#111" transform="rotate(-45 131.2 654.6)" textLength="16.6" lengthAdjust="spacingAndGlyphs" stroke="#111" stroke-width="0.22">SKM</text>
<text x="159.6" y="654.6" font-size="8.78" text-anchor="end" font-weight="bold" fill="#111" transform="rotate(-45 159.6 654.6)" textLength="16.9" lengthAdjust="spacingAndGlyphs" stroke="#111" stroke-width="0.22">VAd</text>
<text x="187.3" y="656" font-size="7.7" text-anchor="end" font-weight="bold" fill="#111" transform="rotate(-45 187.3 656)" textLength="15.4" lengthAdjust="spacingAndGlyphs" stroke="#111" stroke-width="0.22">SAd</text>
<text x="46.1" y="624.1" font-size="9.19" font-weight="bold" fill="#111" transform="rotate(-90 46.1 624.1)" textLength="91.9" lengthAdjust="spacingAndGlyphs" stroke="#111" stroke-width="0.22">LRP2 (Megalin) Gene</text>
<text x="56.2" y="600.7" font-size="8.77" font-weight="bold" fill="#111" transform="rotate(-90 56.2 600.7)" textLength="47.3" lengthAdjust="spacingAndGlyphs" stroke="#111" stroke-width="0.22">Expression</text>
<text x="298.4" y="507.9" font-size="19.6" font-weight="bold">F</text>
<line x1="379.4" y1="508" x2="379.4" y2="617.9" stroke="#222" stroke-width="1.3"/>
<line x1="379.4" y1="617.9" x2="438" y2="617.9" stroke="#222" stroke-width="1.3"/>
<line x1="377.2" y1="617.9" x2="379.4" y2="617.9" stroke="#222" stroke-width="1"/>
<text x="376.5" y="620.5" font-size="7.77" text-anchor="end" font-weight="bold" fill="#111" textLength="10.8" lengthAdjust="spacingAndGlyphs" stroke="#111" stroke-width="0.22">0.0</text>
<line x1="377.2" y1="581.27" x2="379.4" y2="581.27" stroke="#222" stroke-width="1"/>
<text x="376.5" y="583.87" font-size="7.77" text-anchor="end" font-weight="bold" fill="#111" textLength="10.8" lengthAdjust="spacingAndGlyphs" stroke="#111" stroke-width="0.22">0.5</text>
<line x1="377.2" y1="544.63" x2="379.4" y2="544.63" stroke="#222" stroke-width="1"/>
<text x="376.5" y="547.23" font-size="7.77" text-anchor="end" font-weight="bold" fill="#111" textLength="10.8" lengthAdjust="spacingAndGlyphs" stroke="#111" stroke-width="0.22">1.0</text>
<line x1="377.2" y1="508" x2="379.4" y2="508" stroke="#222" stroke-width="1"/>
<text x="376.5" y="510.6" font-size="7.77" text-anchor="end" font-weight="bold" fill="#111" textLength="10.8" lengthAdjust="spacingAndGlyphs" stroke="#111" stroke-width="0.22">1.5</text>
<rect x="390.4" y="544.63" width="20.7" height="73.27" fill="#000" stroke="#000" stroke-width="0.9"/>
<line x1="400.75" y1="544.63" x2="400.75" y2="539.5" stroke="#000" stroke-width="0.9"/>
<line x1="395.75" y1="539.5" x2="405.75" y2="539.5" stroke="#000" stroke-width="0.9"/>
<rect x="416.9" y="591.52" width="20.2" height="26.38" fill="#8a8a8a" stroke="#111" stroke-width="0.9"/>
<line x1="427" y1="591.52" x2="427" y2="584.2" stroke="#000" stroke-width="0.9"/>
<line x1="422" y1="584.2" x2="432" y2="584.2" stroke="#000" stroke-width="0.9"/>
<line x1="399.6" y1="531.7" x2="429.6" y2="531.7" stroke="#000" stroke-width="1.2"/>
<text x="413.75" y="530.2" font-size="8.5" text-anchor="middle" font-weight="bold" textLength="8.2" lengthAdjust="spacingAndGlyphs" stroke="#000" stroke-width="0.22">**</text>
<text x="351.2" y="624.8" font-size="8.94" font-weight="bold" fill="#111" transform="rotate(-90 351.2 624.8)" textLength="124.2" lengthAdjust="spacingAndGlyphs" stroke="#111" stroke-width="0.22">LRP2 Expression Normalized</text>
<text x="360.8" y="577.6" font-size="9.06" font-weight="bold" fill="#111" transform="rotate(-90 360.8 577.6)" textLength="30.2" lengthAdjust="spacingAndGlyphs" stroke="#111" stroke-width="0.22">to Ppia</text>
<text x="403" y="631.5" font-size="7.87" text-anchor="end" font-weight="bold" fill="#111" transform="rotate(-45 403 631.5)" textLength="66" lengthAdjust="spacingAndGlyphs" stroke="#111" stroke-width="0.22">Scrambled siRNA</text>
<text x="427.5" y="632" font-size="7.63" text-anchor="end" font-weight="bold" fill="#111" transform="rotate(-45 427.5 632)" textLength="44.5" lengthAdjust="spacingAndGlyphs" stroke="#111" stroke-width="0.22">LRP2 siRNA</text>
<text x="0.2" y="694.9" font-size="19.8" font-weight="bold">G</text>
<text x="50.4" y="730.6" font-size="6" fill="#222" textLength="39.4" lengthAdjust="spacingAndGlyphs" stroke="#222" stroke-width="0.22">Scrambled siRNA</text>
<line x1="20.6" y1="733.6" x2="119.5" y2="733.6" stroke="#222" stroke-width="0.8"/>
<text x="148.75" y="730.6" font-size="6" fill="#222" textLength="26.75" lengthAdjust="spacingAndGlyphs" stroke="#222" stroke-width="0.22">LRP2 siRNA</text>
<line x1="126.25" y1="733.6" x2="200.5" y2="733.6" stroke="#222" stroke-width="0.8"/>
<text x="24.4" y="745.6" font-size="5.2" fill="#222" textLength="7.1" lengthAdjust="spacingAndGlyphs" stroke="#222" stroke-width="0.22">Veh</text>
<text x="45.6" y="745.6" font-size="5.2" fill="#222" textLength="7.1" lengthAdjust="spacingAndGlyphs" stroke="#222" stroke-width="0.22">CLU</text>
<text x="68" y="745.6" font-size="5.2" fill="#222" textLength="6.4" lengthAdjust="spacingAndGlyphs" stroke="#222" stroke-width="0.22">INS</text>
<text x="128.75" y="745.6" font-size="5.2" fill="#222" textLength="6.75" lengthAdjust="spacingAndGlyphs" stroke="#222" stroke-width="0.22">CLU</text>
<text x="148" y="745.6" font-size="5.2" fill="#222" textLength="6.5" lengthAdjust="spacingAndGlyphs" stroke="#222" stroke-width="0.22">INS</text>
<text x="87.9" y="741.2" font-size="5.2" fill="#222" textLength="9.6" lengthAdjust="spacingAndGlyphs" stroke="#222" stroke-width="0.22">+ 0.5</text>
<text x="89.4" y="747.9" font-size="5.2" fill="#222" textLength="7" lengthAdjust="spacingAndGlyphs" stroke="#222" stroke-width="0.22">CLU</text>
<text x="106.8" y="741.2" font-size="5.2" fill="#222" textLength="10" lengthAdjust="spacingAndGlyphs" stroke="#222" stroke-width="0.22">+ 5.0</text>
<text x="108.5" y="747.9" font-size="5.2" fill="#222" textLength="7" lengthAdjust="spacingAndGlyphs" stroke="#222" stroke-width="0.22">CLU</text>
<text x="164.5" y="741.2" font-size="5.2" fill="#222" textLength="10" lengthAdjust="spacingAndGlyphs" stroke="#222" stroke-width="0.22">+ 0.5</text>
<text x="166.2" y="747.9" font-size="5.2" fill="#222" textLength="7" lengthAdjust="spacingAndGlyphs" stroke="#222" stroke-width="0.22">CLU</text>
<text x="184.5" y="741.2" font-size="5.2" fill="#222" textLength="10.5" lengthAdjust="spacingAndGlyphs" stroke="#222" stroke-width="0.22">+ 5.0</text>
<text x="186.45" y="747.9" font-size="5.2" fill="#222" textLength="7" lengthAdjust="spacingAndGlyphs" stroke="#222" stroke-width="0.22">CLU</text>
<rect x="12.9" y="752.6" width="192.8" height="57.9" fill="#535353"/>
<rect x="12.9" y="772.5" width="192.8" height="38" fill="#565656"/>
<g filter="url(#bl2)">
<ellipse cx="112" cy="778" rx="18" ry="6" fill="#5a5a5a"/>
<ellipse cx="80" cy="806" rx="7" ry="5" fill="#4e4e4e"/>
<rect x="63.8" y="759.7" width="15" height="4.6" rx="2.3" fill="#0e0e0e"/>
<rect x="82.1" y="759.7" width="17.3" height="4.6" rx="2.3" fill="#0e0e0e"/>
<rect x="104.2" y="759.7" width="14.3" height="4.6" rx="2.3" fill="#0e0e0e"/>
<rect x="144.5" y="757.9" width="14.3" height="4.6" rx="2.3" fill="#0e0e0e"/>
<rect x="162.5" y="757.7" width="16.3" height="4.6" rx="2.3" fill="#0e0e0e"/>
<rect x="182.5" y="756.5" width="16.3" height="4.6" rx="2.3" fill="#0e0e0e"/>
<rect x="15.8" y="789.5" width="20.2" height="6" rx="3" fill="#121212"/>
<rect x="38.5" y="789.5" width="18.5" height="6" rx="3" fill="#121212"/>
<rect x="60.4" y="789.5" width="17.9" height="6" rx="3" fill="#121212"/>
<rect x="80.2" y="789.5" width="19.2" height="6" rx="3" fill="#121212"/>
<rect x="102.3" y="789.5" width="18.7" height="6" rx="3" fill="#121212"/>
<rect x="124" y="789.5" width="19" height="6" rx="3" fill="#121212"/>
<rect x="145" y="789.5" width="17.5" height="6" rx="3" fill="#121212"/>
<rect x="165" y="789.5" width="18" height="6" rx="3" fill="#121212"/>
<rect x="186" y="789.5" width="18" height="6" rx="3" fill="#121212"/>
</g>
<text x="215.1" y="766.4" font-size="7.2" fill="#222" textLength="15.5" lengthAdjust="spacingAndGlyphs" stroke="#222" stroke-width="0.22">pAKT</text>
<text x="215.8" y="796.1" font-size="7.2" fill="#222" textLength="13.8" lengthAdjust="spacingAndGlyphs" stroke="#222" stroke-width="0.22">tAKT</text>
<text x="121.1" y="826.8" font-size="5.72" font-weight="bold" fill="#111" textLength="22.4" lengthAdjust="spacingAndGlyphs" stroke="#111" stroke-width="0.22">WB Data</text>
<line x1="88.5" y1="834.8" x2="88.5" y2="897.3" stroke="#333" stroke-width="0.8"/>
<line x1="88.5" y1="897.3" x2="176.6" y2="897.3" stroke="#333" stroke-width="0.8"/>
<line x1="87" y1="897.3" x2="88.5" y2="897.3" stroke="#333" stroke-width="0.6"/>
<text x="86.5" y="898.9" font-size="5.14" text-anchor="end" font-weight="bold" fill="#222" textLength="6.5" lengthAdjust="spacingAndGlyphs" stroke="#222" stroke-width="0.22">0.0</text>
<line x1="87" y1="881.67" x2="88.5" y2="881.67" stroke="#333" stroke-width="0.6"/>
<text x="86.5" y="883.27" font-size="5.14" text-anchor="end" font-weight="bold" fill="#222" textLength="6.5" lengthAdjust="spacingAndGlyphs" stroke="#222" stroke-width="0.22">0.2</text>
<line x1="87" y1="866.05" x2="88.5" y2="866.05" stroke="#333" stroke-width="0.6"/>
<text x="86.5" y="867.65" font-size="5.14" text-anchor="end" font-weight="bold" fill="#222" textLength="6.5" lengthAdjust="spacingAndGlyphs" stroke="#222" stroke-width="0.22">0.4</text>
<line x1="87" y1="850.42" x2="88.5" y2="850.42" stroke="#333" stroke-width="0.6"/>
<text x="86.5" y="852.02" font-size="5.14" text-anchor="end" font-weight="bold" fill="#222" textLength="6.5" lengthAdjust="spacingAndGlyphs" stroke="#222" stroke-width="0.22">0.6</text>
<line x1="87" y1="834.8" x2="88.5" y2="834.8" stroke="#333" stroke-width="0.6"/>
<text x="86.5" y="836.4" font-size="5.14" text-anchor="end" font-weight="bold" fill="#222" textLength="6.5" lengthAdjust="spacingAndGlyphs" stroke="#222" stroke-width="0.22">0.8</text>
<text x="94.55" y="904.3" font-size="4.52" text-anchor="end" font-weight="bold" fill="#222" transform="rotate(-45 94.55 904.3)" textLength="17.8" lengthAdjust="spacingAndGlyphs" stroke="#222" stroke-width="0.22">Clusterin</text>
<rect x="99.7" y="858.47" width="8.1" height="38.83" fill="#777" stroke="#333" stroke-width="0.8"/>
<line x1="103.75" y1="858.47" x2="103.75" y2="846.21" stroke="#333" stroke-width="0.8"/>
<line x1="102" y1="846.21" x2="105.5" y2="846.21" stroke="#333" stroke-width="0.8"/>
<text x="104.55" y="904.3" font-size="4.34" text-anchor="end" font-weight="bold" fill="#222" transform="rotate(-45 104.55 904.3)" textLength="12.7" lengthAdjust="spacingAndGlyphs" stroke="#222" stroke-width="0.22">Insulin</text>
<rect x="109.4" y="865.58" width="7.4" height="31.72" fill="#e8e8e8" stroke="#333" stroke-width="0.8"/>
<line x1="113.1" y1="865.58" x2="113.1" y2="856.44" stroke="#333" stroke-width="0.8"/>
<line x1="111.35" y1="856.44" x2="114.85" y2="856.44" stroke="#333" stroke-width="0.8"/>
<text x="113.9" y="904.3" font-size="4.78" text-anchor="end" font-weight="bold" fill="#222" transform="rotate(-45 113.9 904.3)" textLength="27.4" lengthAdjust="spacingAndGlyphs" stroke="#222" stroke-width="0.22">Ins + 0.5 CLU</text>
<rect x="119.5" y="871.13" width="7.1" height="26.17" fill="#c8c8c8" stroke="#333" stroke-width="0.8"/>
<line x1="123.05" y1="871.13" x2="123.05" y2="864.1" stroke="#333" stroke-width="0.8"/>
<line x1="121.3" y1="864.1" x2="124.8" y2="864.1" stroke="#333" stroke-width="0.8"/>
<text x="123.85" y="904.3" font-size="4.54" text-anchor="end" font-weight="bold" fill="#222" transform="rotate(-45 123.85 904.3)" textLength="22.6" lengthAdjust="spacingAndGlyphs" stroke="#222" stroke-width="0.22">Ins + 5 CLU</text>
<rect x="137.9" y="895.89" width="7.8" height="1.41" fill="#222" stroke="#333" stroke-width="0.8"/>
<text x="142.6" y="904.3" font-size="4.52" text-anchor="end" font-weight="bold" fill="#222" transform="rotate(-45 142.6 904.3)" textLength="17.8" lengthAdjust="spacingAndGlyphs" stroke="#222" stroke-width="0.22">Clusterin</text>
<rect x="147.3" y="847.61" width="7.8" height="49.69" fill="#eeeeee" stroke="#333" stroke-width="0.8"/>
<line x1="151.2" y1="847.61" x2="151.2" y2="839.25" stroke="#333" stroke-width="0.8"/>
<line x1="149.45" y1="839.25" x2="152.95" y2="839.25" stroke="#333" stroke-width="0.8"/>
<text x="152" y="904.3" font-size="4.34" text-anchor="end" font-weight="bold" fill="#222" transform="rotate(-45 152 904.3)" textLength="12.7" lengthAdjust="spacingAndGlyphs" stroke="#222" stroke-width="0.22">Insulin</text>
<rect x="157.4" y="854.33" width="7.4" height="42.97" fill="#8a8a8a" stroke="#333" stroke-width="0.8"/>
<line x1="161.1" y1="854.33" x2="161.1" y2="847.3" stroke="#333" stroke-width="0.8"/>
<line x1="159.35" y1="847.3" x2="162.85" y2="847.3" stroke="#333" stroke-width="0.8"/>
<text x="161.9" y="904.3" font-size="4.78" text-anchor="end" font-weight="bold" fill="#222" transform="rotate(-45 161.9 904.3)" textLength="27.4" lengthAdjust="spacingAndGlyphs" stroke="#222" stroke-width="0.22">Ins + 0.5 CLU</text>
<rect x="167.2" y="850.42" width="7" height="46.88" fill="#000" stroke="#333" stroke-width="0.8"/>
<line x1="170.7" y1="850.42" x2="170.7" y2="845.74" stroke="#333" stroke-width="0.8"/>
<line x1="168.95" y1="845.74" x2="172.45" y2="845.74" stroke="#333" stroke-width="0.8"/>
<text x="171.5" y="904.3" font-size="4.54" text-anchor="end" font-weight="bold" fill="#222" transform="rotate(-45 171.5 904.3)" textLength="22.6" lengthAdjust="spacingAndGlyphs" stroke="#222" stroke-width="0.22">Ins + 5 CLU</text>
<text x="78.5" y="884.6" font-size="5.8" font-weight="bold" fill="#222" transform="rotate(-90 78.5 884.6)" textLength="37" lengthAdjust="spacingAndGlyphs" stroke="#222" stroke-width="0.22">pAkt / total Akt</text>
<line x1="76.4" y1="927.3" x2="120.5" y2="927.3" stroke="#000" stroke-width="1.3"/>
<line x1="129.5" y1="927.3" x2="174.5" y2="927.3" stroke="#000" stroke-width="1.3"/>
<text x="79.1" y="934.1" font-size="5.2" font-weight="bold" fill="#222" textLength="39.7" lengthAdjust="spacingAndGlyphs" stroke="#222" stroke-width="0.22">Scrambled siRNA</text>
<text x="137.6" y="934.1" font-size="5.13" font-weight="bold" fill="#222" textLength="27.2" lengthAdjust="spacingAndGlyphs" stroke="#222" stroke-width="0.22">LRP2 siRNA</text>
<text x="240.7" y="694.75" font-size="19.3" font-weight="bold">H</text>
<text x="272" y="937.1" font-size="9.14" font-weight="bold" fill="#111" transform="rotate(-90 272 937.1)" textLength="231.5" lengthAdjust="spacingAndGlyphs" stroke="#111" stroke-width="0.22">Fold Change vs. scRNA + Vehicle Normalized to PPIA</text>
<text x="354" y="702.4" font-size="5.31" text-anchor="middle" font-weight="bold" fill="#111" textLength="18.3" lengthAdjust="spacingAndGlyphs" stroke="#111" stroke-width="0.22">APOA1</text>
<line x1="312.2" y1="710.5" x2="312.2" y2="771.3" stroke="#333" stroke-width="0.8"/>
<line x1="312.2" y1="771.3" x2="396" y2="771.3" stroke="#333" stroke-width="0.8"/>
<line x1="310.8" y1="771.3" x2="312.2" y2="771.3" stroke="#333" stroke-width="0.6"/>
<text x="310.4" y="772.8" font-size="4.59" text-anchor="end" font-weight="bold" fill="#222" textLength="5.8" lengthAdjust="spacingAndGlyphs" stroke="#222" stroke-width="0.22">0.0</text>
<line x1="310.8" y1="759.14" x2="312.2" y2="759.14" stroke="#333" stroke-width="0.6"/>
<text x="310.4" y="760.64" font-size="4.59" text-anchor="end" font-weight="bold" fill="#222" textLength="5.8" lengthAdjust="spacingAndGlyphs" stroke="#222" stroke-width="0.22">0.5</text>
<line x1="310.8" y1="746.98" x2="312.2" y2="746.98" stroke="#333" stroke-width="0.6"/>
<text x="310.4" y="748.48" font-size="4.59" text-anchor="end" font-weight="bold" fill="#222" textLength="5.8" lengthAdjust="spacingAndGlyphs" stroke="#222" stroke-width="0.22">1.0</text>
<line x1="310.8" y1="734.82" x2="312.2" y2="734.82" stroke="#333" stroke-width="0.6"/>
<text x="310.4" y="736.32" font-size="4.59" text-anchor="end" font-weight="bold" fill="#222" textLength="5.8" lengthAdjust="spacingAndGlyphs" stroke="#222" stroke-width="0.22">1.5</text>
<line x1="310.8" y1="722.66" x2="312.2" y2="722.66" stroke="#333" stroke-width="0.6"/>
<text x="310.4" y="724.16" font-size="4.59" text-anchor="end" font-weight="bold" fill="#222" textLength="5.8" lengthAdjust="spacingAndGlyphs" stroke="#222" stroke-width="0.22">2.0</text>
<line x1="310.8" y1="710.5" x2="312.2" y2="710.5" stroke="#333" stroke-width="0.6"/>
<text x="310.4" y="712" font-size="4.59" text-anchor="end" font-weight="bold" fill="#222" textLength="5.8" lengthAdjust="spacingAndGlyphs" stroke="#222" stroke-width="0.22">2.5</text>
<rect x="318" y="746.98" width="9.7" height="24.32" fill="#6c6c6c" stroke="#3a3a3a" stroke-width="0.9"/>
<line x1="322.85" y1="746.98" x2="322.85" y2="746.01" stroke="#333" stroke-width="0.8"/>
<line x1="320.85" y1="746.01" x2="324.85" y2="746.01" stroke="#333" stroke-width="0.8"/>
<text x="323.75" y="777.3" font-size="5.97" text-anchor="end" font-weight="bold" fill="#222" transform="rotate(-48 323.75 777.3)" textLength="35.9" lengthAdjust="spacingAndGlyphs" stroke="#222" stroke-width="0.22">insulin, 50 nM</text>
<rect x="330.2" y="761.09" width="10" height="10.21" fill="#d4d4d4" stroke="#3a3a3a" stroke-width="0.9"/>
<line x1="335.2" y1="761.09" x2="335.2" y2="760.6" stroke="#333" stroke-width="0.8"/>
<line x1="333.2" y1="760.6" x2="337.2" y2="760.6" stroke="#333" stroke-width="0.8"/>
<text x="336.1" y="777.3" font-size="6.09" text-anchor="end" font-weight="bold" fill="#222" transform="rotate(-48 336.1 777.3)" textLength="41.7" lengthAdjust="spacingAndGlyphs" stroke="#222" stroke-width="0.22">insulin+CLU 0.1</text>
<rect x="342.9" y="762.3" width="10.2" height="9" fill="#8a8a8a" stroke="#3a3a3a" stroke-width="0.9"/>
<line x1="348" y1="762.3" x2="348" y2="761.94" stroke="#333" stroke-width="0.8"/>
<line x1="346" y1="761.94" x2="350" y2="761.94" stroke="#333" stroke-width="0.8"/>
<text x="348.9" y="777.3" font-size="6.09" text-anchor="end" font-weight="bold" fill="#222" transform="rotate(-48 348.9 777.3)" textLength="41.7" lengthAdjust="spacingAndGlyphs" stroke="#222" stroke-width="0.22">insulin+CLU 5.0</text>
<rect x="355.2" y="728.25" width="10.8" height="43.05" fill="#9c9c9c" stroke="#3a3a3a" stroke-width="0.9"/>
<line x1="360.6" y1="728.25" x2="360.6" y2="724.12" stroke="#333" stroke-width="0.8"/>
<line x1="358.6" y1="724.12" x2="362.6" y2="724.12" stroke="#333" stroke-width="0.8"/>
<text x="361.5" y="777.3" font-size="5.97" text-anchor="end" font-weight="bold" fill="#222" transform="rotate(-48 361.5 777.3)" textLength="35.9" lengthAdjust="spacingAndGlyphs" stroke="#222" stroke-width="0.22">insulin, 50 nM</text>
<rect x="367.9" y="737.25" width="10.8" height="34.05" fill="#000000" stroke="#3a3a3a" stroke-width="0.9"/>
<line x1="373.3" y1="737.25" x2="373.3" y2="736.28" stroke="#333" stroke-width="0.8"/>
<line x1="371.3" y1="736.28" x2="375.3" y2="736.28" stroke="#333" stroke-width="0.8"/>
<text x="374.2" y="777.3" font-size="6.09" text-anchor="end" font-weight="bold" fill="#222" transform="rotate(-48 374.2 777.3)" textLength="41.7" lengthAdjust="spacingAndGlyphs" stroke="#222" stroke-width="0.22">insulin+CLU 0.1</text>
<rect x="381" y="739.68" width="10" height="31.62" fill="#777777" stroke="#3a3a3a" stroke-width="0.9"/>
<line x1="386" y1="739.68" x2="386" y2="736.77" stroke="#333" stroke-width="0.8"/>
<line x1="384" y1="736.77" x2="388" y2="736.77" stroke="#333" stroke-width="0.8"/>
<text x="386.9" y="777.3" font-size="6.09" text-anchor="end" font-weight="bold" fill="#222" transform="rotate(-48 386.9 777.3)" textLength="41.7" lengthAdjust="spacingAndGlyphs" stroke="#222" stroke-width="0.22">insulin+CLU 5.0</text>
<line x1="322.3" y1="714.1" x2="373.3" y2="714.1" stroke="#3a3a3a" stroke-width="1.2"/>
<text x="346.8" y="713.5" font-size="5.2" text-anchor="middle" font-weight="bold" fill="#444" textLength="1.9" lengthAdjust="spacingAndGlyphs" stroke="#444" stroke-width="0.22">*</text>
<line x1="322.3" y1="721.9" x2="359.8" y2="721.9" stroke="#3a3a3a" stroke-width="1.2"/>
<text x="340.05" y="721.3" font-size="5.2" text-anchor="middle" font-weight="bold" fill="#444" textLength="5.7" lengthAdjust="spacingAndGlyphs" stroke="#444" stroke-width="0.22">***</text>
<line x1="322.3" y1="734.6" x2="349" y2="734.6" stroke="#3a3a3a" stroke-width="1.2"/>
<text x="334.65" y="734" font-size="5.2" text-anchor="middle" font-weight="bold" fill="#444" textLength="5.7" lengthAdjust="spacingAndGlyphs" stroke="#444" stroke-width="0.22">***</text>
<line x1="322.3" y1="741.2" x2="335.6" y2="741.2" stroke="#3a3a3a" stroke-width="1.2"/>
<text x="327.95" y="740.6" font-size="5.2" text-anchor="middle" font-weight="bold" fill="#444" textLength="3.8" lengthAdjust="spacingAndGlyphs" stroke="#444" stroke-width="0.22">**</text>
<line x1="291" y1="816" x2="330" y2="816" stroke="#000" stroke-width="1.4"/>
<line x1="335.6" y1="816" x2="372.7" y2="816" stroke="#000" stroke-width="1.4"/>
<text x="310.5" y="825.4" font-size="5.51" text-anchor="middle" font-weight="bold" fill="#111" textLength="44" lengthAdjust="spacingAndGlyphs" stroke="#111" stroke-width="0.22">Scrambled siRNA</text>
<text x="354.15" y="825.4" font-size="5.53" text-anchor="middle" font-weight="bold" fill="#111" textLength="30.7" lengthAdjust="spacingAndGlyphs" stroke="#111" stroke-width="0.22">LRP2 siRNA</text>
<text x="471.5" y="702.4" font-size="4.94" text-anchor="middle" font-weight="bold" fill="#111" textLength="10.98" lengthAdjust="spacingAndGlyphs" stroke="#111" stroke-width="0.22">GCK</text>
<line x1="430" y1="710.6" x2="430" y2="771.3" stroke="#333" stroke-width="0.8"/>
<line x1="430" y1="771.3" x2="510" y2="771.3" stroke="#333" stroke-width="0.8"/>
<line x1="428.6" y1="771.3" x2="430" y2="771.3" stroke="#333" stroke-width="0.6"/>
<text x="428.2" y="772.8" font-size="4.75" text-anchor="end" font-weight="bold" fill="#222" textLength="2.4" lengthAdjust="spacingAndGlyphs" stroke="#222" stroke-width="0.22">0</text>
<line x1="428.6" y1="759.16" x2="430" y2="759.16" stroke="#333" stroke-width="0.6"/>
<text x="428.2" y="760.66" font-size="4.75" text-anchor="end" font-weight="bold" fill="#222" textLength="2.4" lengthAdjust="spacingAndGlyphs" stroke="#222" stroke-width="0.22">1</text>
<line x1="428.6" y1="747.02" x2="430" y2="747.02" stroke="#333" stroke-width="0.6"/>
<text x="428.2" y="748.52" font-size="4.75" text-anchor="end" font-weight="bold" fill="#222" textLength="2.4" lengthAdjust="spacingAndGlyphs" stroke="#222" stroke-width="0.22">2</text>
<line x1="428.6" y1="734.88" x2="430" y2="734.88" stroke="#333" stroke-width="0.6"/>
<text x="428.2" y="736.38" font-size="4.75" text-anchor="end" font-weight="bold" fill="#222" textLength="2.4" lengthAdjust="spacingAndGlyphs" stroke="#222" stroke-width="0.22">3</text>
<line x1="428.6" y1="722.74" x2="430" y2="722.74" stroke="#333" stroke-width="0.6"/>
<text x="428.2" y="724.24" font-size="4.75" text-anchor="end" font-weight="bold" fill="#222" textLength="2.4" lengthAdjust="spacingAndGlyphs" stroke="#222" stroke-width="0.22">4</text>
<line x1="428.6" y1="710.6" x2="430" y2="710.6" stroke="#333" stroke-width="0.6"/>
<text x="428.2" y="712.1" font-size="4.75" text-anchor="end" font-weight="bold" fill="#222" textLength="2.4" lengthAdjust="spacingAndGlyphs" stroke="#222" stroke-width="0.22">5</text>
<rect x="436.1" y="759.89" width="9.8" height="11.41" fill="#6c6c6c" stroke="#3a3a3a" stroke-width="0.9"/>
<line x1="441" y1="759.89" x2="441" y2="757.46" stroke="#333" stroke-width="0.8"/>
<line x1="439" y1="757.46" x2="443" y2="757.46" stroke="#333" stroke-width="0.8"/>
<text x="441.9" y="777.3" font-size="5.97" text-anchor="end" font-weight="bold" fill="#222" transform="rotate(-48 441.9 777.3)" textLength="35.9" lengthAdjust="spacingAndGlyphs" stroke="#222" stroke-width="0.22">insulin, 50 nM</text>
<rect x="448.5" y="724.2" width="10.1" height="47.1" fill="#d4d4d4" stroke="#3a3a3a" stroke-width="0.9"/>
<line x1="453.55" y1="724.2" x2="453.55" y2="721.28" stroke="#333" stroke-width="0.8"/>
<line x1="451.55" y1="721.28" x2="455.55" y2="721.28" stroke="#333" stroke-width="0.8"/>
<text x="454.45" y="777.3" font-size="6.09" text-anchor="end" font-weight="bold" fill="#222" transform="rotate(-48 454.45 777.3)" textLength="41.7" lengthAdjust="spacingAndGlyphs" stroke="#222" stroke-width="0.22">insulin+CLU 0.1</text>
<rect x="461.2" y="736.46" width="10" height="34.84" fill="#8a8a8a" stroke="#3a3a3a" stroke-width="0.9"/>
<line x1="466.2" y1="736.46" x2="466.2" y2="730.63" stroke="#333" stroke-width="0.8"/>
<line x1="464.2" y1="730.63" x2="468.2" y2="730.63" stroke="#333" stroke-width="0.8"/>
<text x="467.1" y="777.3" font-size="6.09" text-anchor="end" font-weight="bold" fill="#222" transform="rotate(-48 467.1 777.3)" textLength="41.7" lengthAdjust="spacingAndGlyphs" stroke="#222" stroke-width="0.22">insulin+CLU 5.0</text>
<rect x="474.1" y="762.8" width="9.5" height="8.5" fill="#9c9c9c" stroke="#3a3a3a" stroke-width="0.9"/>
<text x="479.75" y="777.3" font-size="5.97" text-anchor="end" font-weight="bold" fill="#222" transform="rotate(-48 479.75 777.3)" textLength="35.9" lengthAdjust="spacingAndGlyphs" stroke="#222" stroke-width="0.22">insulin, 50 nM</text>
<rect x="486.8" y="761.35" width="9.5" height="9.95" fill="#000000" stroke="#3a3a3a" stroke-width="0.9"/>
<line x1="491.55" y1="761.35" x2="491.55" y2="759.89" stroke="#333" stroke-width="0.8"/>
<line x1="489.55" y1="759.89" x2="493.55" y2="759.89" stroke="#333" stroke-width="0.8"/>
<text x="492.45" y="777.3" font-size="6.09" text-anchor="end" font-weight="bold" fill="#222" transform="rotate(-48 492.45 777.3)" textLength="41.7" lengthAdjust="spacingAndGlyphs" stroke="#222" stroke-width="0.22">insulin+CLU 0.1</text>
<rect x="499.2" y="761.35" width="9.8" height="9.95" fill="#777777" stroke="#3a3a3a" stroke-width="0.9"/>
<line x1="504.1" y1="761.35" x2="504.1" y2="760.86" stroke="#333" stroke-width="0.8"/>
<line x1="502.1" y1="760.86" x2="506.1" y2="760.86" stroke="#333" stroke-width="0.8"/>
<text x="505" y="777.3" font-size="6.09" text-anchor="end" font-weight="bold" fill="#222" transform="rotate(-48 505 777.3)" textLength="41.7" lengthAdjust="spacingAndGlyphs" stroke="#222" stroke-width="0.22">insulin+CLU 5.0</text>
<line x1="440.2" y1="710" x2="466.9" y2="710" stroke="#3a3a3a" stroke-width="1.2"/>
<text x="452.55" y="709.4" font-size="5.2" text-anchor="middle" font-weight="bold" fill="#444" textLength="5.7" lengthAdjust="spacingAndGlyphs" stroke="#444" stroke-width="0.22">***</text>
<line x1="440.2" y1="716.5" x2="452.5" y2="716.5" stroke="#3a3a3a" stroke-width="1.2"/>
<text x="445.35" y="715.9" font-size="5.2" text-anchor="middle" font-weight="bold" fill="#444" textLength="5.7" lengthAdjust="spacingAndGlyphs" stroke="#444" stroke-width="0.22">***</text>
<line x1="407.5" y1="815.2" x2="443.5" y2="815.2" stroke="#000" stroke-width="1.4"/>
<line x1="452.2" y1="815.2" x2="489.7" y2="815.2" stroke="#000" stroke-width="1.4"/>
<text x="425.5" y="824.6" font-size="5.51" text-anchor="middle" font-weight="bold" fill="#111" textLength="44" lengthAdjust="spacingAndGlyphs" stroke="#111" stroke-width="0.22">Scrambled siRNA</text>
<text x="470.95" y="824.6" font-size="5.53" text-anchor="middle" font-weight="bold" fill="#111" textLength="30.7" lengthAdjust="spacingAndGlyphs" stroke="#111" stroke-width="0.22">LRP2 siRNA</text>
<text x="353.2" y="850.8" font-size="5.49" text-anchor="middle" font-weight="bold" fill="#111" textLength="14.64" lengthAdjust="spacingAndGlyphs" stroke="#111" stroke-width="0.22">PCK1</text>
<line x1="312.5" y1="870.25" x2="312.5" y2="931.25" stroke="#333" stroke-width="0.8"/>
<line x1="312.5" y1="931.25" x2="394.4" y2="931.25" stroke="#333" stroke-width="0.8"/>
<line x1="311.1" y1="931.25" x2="312.5" y2="931.25" stroke="#333" stroke-width="0.6"/>
<text x="310.7" y="932.75" font-size="4.75" text-anchor="end" font-weight="bold" fill="#222" textLength="2.4" lengthAdjust="spacingAndGlyphs" stroke="#222" stroke-width="0.22">0</text>
<line x1="311.1" y1="910.92" x2="312.5" y2="910.92" stroke="#333" stroke-width="0.6"/>
<text x="310.7" y="912.42" font-size="4.75" text-anchor="end" font-weight="bold" fill="#222" textLength="2.4" lengthAdjust="spacingAndGlyphs" stroke="#222" stroke-width="0.22">2</text>
<line x1="311.1" y1="890.58" x2="312.5" y2="890.58" stroke="#333" stroke-width="0.6"/>
<text x="310.7" y="892.08" font-size="4.75" text-anchor="end" font-weight="bold" fill="#222" textLength="2.4" lengthAdjust="spacingAndGlyphs" stroke="#222" stroke-width="0.22">4</text>
<line x1="311.1" y1="870.25" x2="312.5" y2="870.25" stroke="#333" stroke-width="0.6"/>
<text x="310.7" y="871.75" font-size="4.75" text-anchor="end" font-weight="bold" fill="#222" textLength="2.4" lengthAdjust="spacingAndGlyphs" stroke="#222" stroke-width="0.22">6</text>
<rect x="315.25" y="919.05" width="10.75" height="12.2" fill="#6c6c6c" stroke="#3a3a3a" stroke-width="0.9"/>
<line x1="320.62" y1="919.05" x2="320.62" y2="916.3" stroke="#333" stroke-width="0.8"/>
<line x1="318.62" y1="916.3" x2="322.62" y2="916.3" stroke="#333" stroke-width="0.8"/>
<text x="321.52" y="937.25" font-size="5.97" text-anchor="end" font-weight="bold" fill="#222" transform="rotate(-48 321.52 937.25)" textLength="35.9" lengthAdjust="spacingAndGlyphs" stroke="#222" stroke-width="0.22">insulin, 50 nM</text>
<rect x="328.5" y="885.5" width="11.25" height="45.75" fill="#d4d4d4" stroke="#3a3a3a" stroke-width="0.9"/>
<line x1="334.12" y1="885.5" x2="334.12" y2="882.75" stroke="#333" stroke-width="0.8"/>
<line x1="332.12" y1="882.75" x2="336.12" y2="882.75" stroke="#333" stroke-width="0.8"/>
<text x="335.02" y="937.25" font-size="6.09" text-anchor="end" font-weight="bold" fill="#222" transform="rotate(-48 335.02 937.25)" textLength="41.7" lengthAdjust="spacingAndGlyphs" stroke="#222" stroke-width="0.22">insulin+CLU 0.1</text>
<rect x="342.25" y="883.47" width="10.85" height="47.78" fill="#8a8a8a" stroke="#3a3a3a" stroke-width="0.9"/>
<line x1="347.68" y1="883.47" x2="347.68" y2="881.84" stroke="#333" stroke-width="0.8"/>
<line x1="345.68" y1="881.84" x2="349.68" y2="881.84" stroke="#333" stroke-width="0.8"/>
<text x="348.57" y="937.25" font-size="6.09" text-anchor="end" font-weight="bold" fill="#222" transform="rotate(-48 348.57 937.25)" textLength="41.7" lengthAdjust="spacingAndGlyphs" stroke="#222" stroke-width="0.22">insulin+CLU 5.0</text>
<rect x="355.6" y="922.1" width="11.1" height="9.15" fill="#9c9c9c" stroke="#3a3a3a" stroke-width="0.9"/>
<line x1="361.15" y1="922.1" x2="361.15" y2="920.88" stroke="#333" stroke-width="0.8"/>
<line x1="359.15" y1="920.88" x2="363.15" y2="920.88" stroke="#333" stroke-width="0.8"/>
<text x="362.05" y="937.25" font-size="5.97" text-anchor="end" font-weight="bold" fill="#222" transform="rotate(-48 362.05 937.25)" textLength="35.9" lengthAdjust="spacingAndGlyphs" stroke="#222" stroke-width="0.22">insulin, 50 nM</text>
<rect x="369.4" y="920.58" width="10.8" height="10.67" fill="#000000" stroke="#3a3a3a" stroke-width="0.9"/>
<line x1="374.8" y1="920.58" x2="374.8" y2="918.34" stroke="#333" stroke-width="0.8"/>
<line x1="372.8" y1="918.34" x2="376.8" y2="918.34" stroke="#333" stroke-width="0.8"/>
<text x="375.7" y="937.25" font-size="6.09" text-anchor="end" font-weight="bold" fill="#222" transform="rotate(-48 375.7 937.25)" textLength="41.7" lengthAdjust="spacingAndGlyphs" stroke="#222" stroke-width="0.22">insulin+CLU 0.1</text>
<rect x="382.9" y="921.08" width="10.2" height="10.17" fill="#777777" stroke="#3a3a3a" stroke-width="0.9"/>
<line x1="388" y1="921.08" x2="388" y2="920.07" stroke="#333" stroke-width="0.8"/>
<line x1="386" y1="920.07" x2="390" y2="920.07" stroke="#333" stroke-width="0.8"/>
<text x="388.9" y="937.25" font-size="6.09" text-anchor="end" font-weight="bold" fill="#222" transform="rotate(-48 388.9 937.25)" textLength="41.7" lengthAdjust="spacingAndGlyphs" stroke="#222" stroke-width="0.22">insulin+CLU 5.0</text>
<line x1="320" y1="869.4" x2="346.5" y2="869.4" stroke="#3a3a3a" stroke-width="1.2"/>
<text x="332.25" y="868.8" font-size="5.2" text-anchor="middle" font-weight="bold" fill="#444" textLength="5.7" lengthAdjust="spacingAndGlyphs" stroke="#444" stroke-width="0.22">***</text>
<line x1="320" y1="876" x2="332.75" y2="876" stroke="#3a3a3a" stroke-width="1.2"/>
<text x="325.38" y="875.4" font-size="5.2" text-anchor="middle" font-weight="bold" fill="#444" textLength="5.7" lengthAdjust="spacingAndGlyphs" stroke="#444" stroke-width="0.22">***</text>
<line x1="292" y1="976" x2="328.5" y2="976" stroke="#000" stroke-width="1.4"/>
<line x1="332.5" y1="976" x2="372.9" y2="976" stroke="#000" stroke-width="1.4"/>
<text x="310.25" y="985.4" font-size="5.51" text-anchor="middle" font-weight="bold" fill="#111" textLength="44" lengthAdjust="spacingAndGlyphs" stroke="#111" stroke-width="0.22">Scrambled siRNA</text>
<text x="352.7" y="985.4" font-size="5.53" text-anchor="middle" font-weight="bold" fill="#111" textLength="30.7" lengthAdjust="spacingAndGlyphs" stroke="#111" stroke-width="0.22">LRP2 siRNA</text>
<text x="472.9" y="850.8" font-size="5.49" text-anchor="middle" font-weight="bold" fill="#111" textLength="21.96" lengthAdjust="spacingAndGlyphs" stroke="#111" stroke-width="0.22">SREBP1</text>
<line x1="434.2" y1="870.2" x2="434.2" y2="930.8" stroke="#333" stroke-width="0.8"/>
<line x1="434.2" y1="930.8" x2="510.2" y2="930.8" stroke="#333" stroke-width="0.8"/>
<line x1="432.8" y1="930.8" x2="434.2" y2="930.8" stroke="#333" stroke-width="0.6"/>
<text x="432.4" y="932.3" font-size="4.59" text-anchor="end" font-weight="bold" fill="#222" textLength="5.8" lengthAdjust="spacingAndGlyphs" stroke="#222" stroke-width="0.22">0.0</text>
<line x1="432.8" y1="918.68" x2="434.2" y2="918.68" stroke="#333" stroke-width="0.6"/>
<text x="432.4" y="920.18" font-size="4.59" text-anchor="end" font-weight="bold" fill="#222" textLength="5.8" lengthAdjust="spacingAndGlyphs" stroke="#222" stroke-width="0.22">0.5</text>
<line x1="432.8" y1="906.56" x2="434.2" y2="906.56" stroke="#333" stroke-width="0.6"/>
<text x="432.4" y="908.06" font-size="4.59" text-anchor="end" font-weight="bold" fill="#222" textLength="5.8" lengthAdjust="spacingAndGlyphs" stroke="#222" stroke-width="0.22">1.0</text>
<line x1="432.8" y1="894.44" x2="434.2" y2="894.44" stroke="#333" stroke-width="0.6"/>
<text x="432.4" y="895.94" font-size="4.59" text-anchor="end" font-weight="bold" fill="#222" textLength="5.8" lengthAdjust="spacingAndGlyphs" stroke="#222" stroke-width="0.22">1.5</text>
<line x1="432.8" y1="882.32" x2="434.2" y2="882.32" stroke="#333" stroke-width="0.6"/>
<text x="432.4" y="883.82" font-size="4.59" text-anchor="end" font-weight="bold" fill="#222" textLength="5.8" lengthAdjust="spacingAndGlyphs" stroke="#222" stroke-width="0.22">2.0</text>
<line x1="432.8" y1="870.2" x2="434.2" y2="870.2" stroke="#333" stroke-width="0.6"/>
<text x="432.4" y="871.7" font-size="4.59" text-anchor="end" font-weight="bold" fill="#222" textLength="5.8" lengthAdjust="spacingAndGlyphs" stroke="#222" stroke-width="0.22">2.5</text>
<rect x="435.6" y="883.77" width="10.2" height="47.03" fill="#6c6c6c" stroke="#3a3a3a" stroke-width="0.9"/>
<line x1="440.7" y1="883.77" x2="440.7" y2="874.81" stroke="#333" stroke-width="0.8"/>
<line x1="438.7" y1="874.81" x2="442.7" y2="874.81" stroke="#333" stroke-width="0.8"/>
<text x="441.6" y="936.8" font-size="5.97" text-anchor="end" font-weight="bold" fill="#222" transform="rotate(-48 441.6 936.8)" textLength="35.9" lengthAdjust="spacingAndGlyphs" stroke="#222" stroke-width="0.22">insulin, 50 nM</text>
<rect x="448.3" y="927.65" width="10" height="3.15" fill="#d4d4d4" stroke="#3a3a3a" stroke-width="0.9"/>
<line x1="453.3" y1="927.65" x2="453.3" y2="927.41" stroke="#333" stroke-width="0.8"/>
<line x1="451.3" y1="927.41" x2="455.3" y2="927.41" stroke="#333" stroke-width="0.8"/>
<text x="454.2" y="936.8" font-size="6.09" text-anchor="end" font-weight="bold" fill="#222" transform="rotate(-48 454.2 936.8)" textLength="41.7" lengthAdjust="spacingAndGlyphs" stroke="#222" stroke-width="0.22">insulin+CLU 0.1</text>
<rect x="461.2" y="928.13" width="9.6" height="2.67" fill="#8a8a8a" stroke="#3a3a3a" stroke-width="0.9"/>
<line x1="466" y1="928.13" x2="466" y2="927.89" stroke="#333" stroke-width="0.8"/>
<line x1="464" y1="927.89" x2="468" y2="927.89" stroke="#333" stroke-width="0.8"/>
<text x="466.9" y="936.8" font-size="6.09" text-anchor="end" font-weight="bold" fill="#222" transform="rotate(-48 466.9 936.8)" textLength="41.7" lengthAdjust="spacingAndGlyphs" stroke="#222" stroke-width="0.22">insulin+CLU 5.0</text>
<rect x="473.3" y="900.74" width="10.4" height="30.06" fill="#9c9c9c" stroke="#3a3a3a" stroke-width="0.9"/>
<line x1="478.5" y1="900.74" x2="478.5" y2="898.08" stroke="#333" stroke-width="0.8"/>
<line x1="476.5" y1="898.08" x2="480.5" y2="898.08" stroke="#333" stroke-width="0.8"/>
<text x="479.4" y="936.8" font-size="5.97" text-anchor="end" font-weight="bold" fill="#222" transform="rotate(-48 479.4 936.8)" textLength="35.9" lengthAdjust="spacingAndGlyphs" stroke="#222" stroke-width="0.22">insulin, 50 nM</text>
<rect x="486.2" y="900.02" width="10" height="30.78" fill="#000000" stroke="#3a3a3a" stroke-width="0.9"/>
<line x1="491.2" y1="900.02" x2="491.2" y2="897.11" stroke="#333" stroke-width="0.8"/>
<line x1="489.2" y1="897.11" x2="493.2" y2="897.11" stroke="#333" stroke-width="0.8"/>
<text x="492.1" y="936.8" font-size="6.09" text-anchor="end" font-weight="bold" fill="#222" transform="rotate(-48 492.1 936.8)" textLength="41.7" lengthAdjust="spacingAndGlyphs" stroke="#222" stroke-width="0.22">insulin+CLU 0.1</text>
<rect x="499" y="893.96" width="10.2" height="36.84" fill="#777777" stroke="#3a3a3a" stroke-width="0.9"/>
<line x1="504.1" y1="893.96" x2="504.1" y2="893.47" stroke="#333" stroke-width="0.8"/>
<line x1="502.1" y1="893.47" x2="506.1" y2="893.47" stroke="#333" stroke-width="0.8"/>
<text x="505" y="936.8" font-size="6.09" text-anchor="end" font-weight="bold" fill="#222" transform="rotate(-48 505 936.8)" textLength="41.7" lengthAdjust="spacingAndGlyphs" stroke="#222" stroke-width="0.22">insulin+CLU 5.0</text>
<line x1="440" y1="859" x2="491" y2="859" stroke="#3a3a3a" stroke-width="1.2"/>
<text x="464.5" y="858.4" font-size="5.2" text-anchor="middle" font-weight="bold" fill="#444" textLength="3.8" lengthAdjust="spacingAndGlyphs" stroke="#444" stroke-width="0.22">**</text>
<line x1="440" y1="863.8" x2="477.9" y2="863.8" stroke="#3a3a3a" stroke-width="1.2"/>
<text x="457.95" y="863.2" font-size="5.2" text-anchor="middle" font-weight="bold" fill="#444" textLength="3.8" lengthAdjust="spacingAndGlyphs" stroke="#444" stroke-width="0.22">**</text>
<line x1="440" y1="868.7" x2="467.3" y2="868.7" stroke="#3a3a3a" stroke-width="1.2"/>
<text x="452.65" y="868.1" font-size="5.2" text-anchor="middle" font-weight="bold" fill="#444" textLength="5.7" lengthAdjust="spacingAndGlyphs" stroke="#444" stroke-width="0.22">***</text>
<line x1="440" y1="873" x2="453.8" y2="873" stroke="#3a3a3a" stroke-width="1.2"/>
<text x="445.9" y="872.4" font-size="5.2" text-anchor="middle" font-weight="bold" fill="#444" textLength="5.7" lengthAdjust="spacingAndGlyphs" stroke="#444" stroke-width="0.22">***</text>
<line x1="406.9" y1="975.5" x2="443.3" y2="975.5" stroke="#000" stroke-width="1.4"/>
<line x1="452.7" y1="975.5" x2="489" y2="975.5" stroke="#000" stroke-width="1.4"/>
<text x="425.1" y="984.9" font-size="5.51" text-anchor="middle" font-weight="bold" fill="#111" textLength="44" lengthAdjust="spacingAndGlyphs" stroke="#111" stroke-width="0.22">Scrambled siRNA</text>
<text x="470.85" y="984.9" font-size="5.53" text-anchor="middle" font-weight="bold" fill="#111" textLength="30.7" lengthAdjust="spacingAndGlyphs" stroke="#111" stroke-width="0.22">LRP2 siRNA</text>
</svg>
</body></html>
